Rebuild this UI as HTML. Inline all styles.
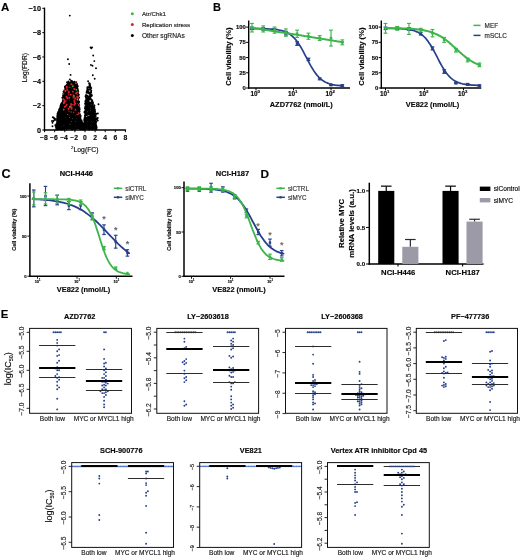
<!DOCTYPE html>
<html><head><meta charset="utf-8"><title>Figure</title>
<style>html,body{margin:0;padding:0;background:#fff}svg{display:block;font-family:"Liberation Sans", sans-serif}text{stroke:#222;stroke-width:.16px}</style>
</head><body>
<svg width="520" height="557" viewBox="0 0 520 557">
<rect width="520" height="557" fill="#fff"/>
<text x="1.00" y="11.40" font-size="11.5" font-weight="bold">A</text>
<text x="213.00" y="10.80" font-size="11" font-weight="bold">B</text>
<text x="1.40" y="178.40" font-size="12.6" font-weight="bold">C</text>
<text x="260.60" y="178.20" font-size="11.8" font-weight="bold">D</text>
<text x="0.80" y="317.60" font-size="11.4" font-weight="bold">E</text>
<path d="M65.6 121.8h0M71.9 111.4h0M57.6 123.3h0M68.7 91.0h0M74.2 82.8h0M84.1 129.2h0M59.7 122.8h0M73.3 96.6h0M58.7 128.8h0M65.5 102.5h0M79.5 111.1h0M71.2 86.7h0M84.7 127.9h0M60.9 118.9h0M78.1 106.8h0M76.1 99.4h0M80.5 117.9h0M57.4 115.8h0M80.2 124.0h0M57.2 124.3h0M58.3 117.3h0M67.8 90.3h0M71.6 87.3h0M64.9 110.3h0M84.0 129.1h0M70.3 100.0h0M68.1 108.7h0M75.9 102.7h0M57.4 115.5h0M79.3 119.4h0M74.7 126.6h0M61.1 120.7h0M60.8 126.8h0M81.6 125.3h0M66.8 113.5h0M84.8 127.4h0M60.0 122.0h0M61.0 129.2h0M71.8 125.5h0M81.4 123.4h0M61.1 108.5h0M65.1 119.7h0M80.3 122.4h0M63.0 110.6h0M57.7 125.4h0M83.4 128.0h0M67.1 118.5h0M62.0 113.0h0M70.0 97.3h0M74.8 85.6h0M69.8 120.0h0M79.5 107.9h0M83.6 126.6h0M60.6 108.4h0M79.8 115.6h0M72.2 124.8h0M74.9 103.6h0M81.6 123.3h0M64.7 117.7h0M68.3 123.3h0M69.4 101.5h0M82.6 125.9h0M57.0 125.3h0M79.4 123.7h0M72.3 111.0h0M78.8 125.1h0M64.3 96.7h0M78.3 91.7h0M70.6 103.0h0M71.5 106.4h0M81.9 122.6h0M83.5 126.1h0M69.2 125.6h0M75.5 91.4h0M77.4 99.5h0M84.0 128.7h0M85.0 126.8h0M71.4 111.9h0M77.0 127.7h0M56.7 125.6h0M57.5 113.6h0M59.6 125.4h0M64.5 121.8h0M80.4 126.6h0M72.8 95.0h0M76.4 110.0h0M74.9 91.8h0M58.4 113.9h0M72.4 84.5h0M71.6 117.1h0M58.1 125.9h0M78.1 116.1h0M66.4 128.3h0M72.3 116.9h0M59.6 111.7h0M80.3 123.2h0M84.1 128.5h0M68.1 112.6h0M58.7 116.4h0M58.5 114.8h0M64.8 118.3h0M61.7 118.0h0M85.0 127.4h0M65.3 113.9h0M70.4 104.5h0M56.8 129.3h0M57.5 126.1h0M71.2 91.6h0M82.3 125.5h0M60.7 112.1h0M79.9 117.9h0M79.6 125.9h0M79.9 120.5h0M81.7 125.4h0M57.5 127.4h0M80.0 121.9h0M75.9 106.5h0M77.7 105.5h0M58.5 116.8h0M64.5 100.9h0M84.5 126.8h0M75.7 91.2h0M59.2 126.7h0M65.2 104.6h0M63.7 101.8h0M64.8 105.8h0M60.6 111.4h0M83.3 128.1h0M84.3 127.7h0M83.4 128.3h0M71.8 84.6h0M70.8 86.1h0M82.1 126.9h0M70.7 106.2h0M66.3 114.3h0M78.4 95.5h0M77.1 87.5h0M67.5 83.2h0M68.7 115.7h0M80.2 126.7h0M64.3 108.9h0M83.4 126.3h0M82.4 123.2h0M58.0 116.4h0M75.1 116.3h0M60.3 118.3h0M78.0 86.1h0M65.2 104.3h0M60.9 125.0h0M62.7 101.0h0M60.6 125.5h0M59.5 124.5h0M81.9 124.0h0M71.5 109.6h0M64.6 91.5h0M74.7 87.5h0M63.8 111.3h0M80.7 121.1h0M76.8 86.6h0M56.2 128.1h0M84.3 128.6h0M75.5 84.3h0M78.3 110.3h0M78.6 122.5h0M65.6 123.3h0M76.6 124.5h0M73.5 109.5h0M57.0 125.7h0M74.9 85.7h0M63.3 93.8h0M56.8 123.4h0M63.7 104.0h0M57.7 123.2h0M61.8 107.5h0M62.8 101.6h0M62.8 120.9h0M83.8 127.7h0M68.3 98.2h0M67.7 119.1h0M58.3 127.1h0M81.7 126.9h0M65.7 121.9h0M57.6 119.3h0M65.9 121.9h0M67.0 89.0h0M61.9 119.3h0M68.9 125.9h0M83.2 127.4h0M56.9 124.2h0M57.9 129.0h0M78.0 90.5h0M84.3 126.8h0M65.5 118.1h0M82.6 126.5h0M62.9 114.0h0M67.6 115.8h0M82.5 128.2h0M78.8 105.9h0M66.9 94.5h0M78.0 118.3h0M72.2 114.3h0M84.7 128.7h0M77.0 107.6h0M73.6 95.8h0M75.2 123.2h0M72.4 109.9h0M64.0 120.6h0M73.5 109.8h0M70.5 117.5h0M84.8 127.7h0M80.5 120.5h0M59.8 126.4h0M82.8 129.0h0M78.9 97.9h0M74.3 117.3h0M62.0 120.6h0M62.7 129.1h0M65.0 120.1h0M58.5 126.8h0M75.1 125.1h0M68.9 114.2h0M65.6 103.5h0M81.3 120.7h0M77.3 121.2h0M68.9 89.1h0M69.7 121.9h0M75.0 86.4h0M67.2 106.0h0M71.6 85.5h0M79.6 111.5h0M83.4 124.8h0M82.7 128.2h0M61.3 110.4h0M80.8 121.3h0M68.0 104.0h0M63.5 102.3h0M72.6 93.9h0M59.7 115.1h0M65.0 109.4h0M75.3 106.2h0M74.6 104.6h0M79.0 113.8h0M59.6 126.3h0M69.2 105.5h0M58.5 116.0h0M58.5 119.4h0M60.3 111.8h0M79.7 127.3h0M84.2 126.5h0M83.4 129.2h0M81.9 128.3h0M71.0 85.0h0M70.9 113.2h0M60.5 105.9h0M61.5 110.6h0M74.3 111.5h0M73.6 88.9h0M74.2 109.2h0M85.1 126.3h0M69.0 120.0h0M79.2 123.7h0M73.2 96.3h0M57.2 126.6h0M71.3 86.4h0M75.1 129.2h0M66.5 117.2h0M62.3 111.1h0M83.3 128.5h0M81.5 122.8h0M56.7 125.1h0M74.7 108.0h0M63.7 97.0h0M68.2 118.8h0M56.8 126.7h0M62.1 110.9h0M79.9 126.2h0M57.4 116.0h0M56.3 127.1h0M77.8 108.4h0M63.5 127.3h0M76.1 89.2h0M71.9 107.2h0M64.0 104.4h0M81.8 128.3h0M84.0 125.3h0M65.6 119.1h0M76.2 98.2h0M80.2 122.5h0M77.3 102.2h0M74.1 125.6h0M57.1 129.2h0M56.9 128.4h0M77.3 125.3h0M79.7 116.8h0M81.2 122.5h0M62.5 127.9h0M79.3 119.1h0M65.0 126.1h0M62.3 119.7h0M63.5 117.5h0M65.6 86.1h0M74.3 127.0h0M78.2 115.4h0M63.0 103.7h0M61.8 128.0h0M56.6 127.1h0M62.2 114.9h0M64.1 93.1h0M76.7 105.9h0M58.3 114.4h0M74.6 110.0h0M81.8 129.1h0M64.0 93.6h0M81.8 126.9h0M77.8 97.3h0M65.4 122.6h0M77.8 119.5h0M73.1 120.5h0M63.7 121.3h0M80.7 128.4h0M66.0 106.1h0M61.7 103.7h0M84.5 127.3h0M79.2 109.9h0M75.0 123.8h0M57.0 124.0h0M70.8 97.2h0M73.0 108.3h0M68.4 101.5h0M62.6 104.9h0M76.1 88.7h0M69.3 113.0h0M68.0 92.2h0M63.7 111.3h0M68.1 97.9h0M75.4 90.3h0M84.2 128.2h0M83.5 128.2h0M71.9 92.5h0M80.5 120.5h0M62.8 107.4h0M60.0 108.3h0M64.3 113.4h0M68.7 95.7h0M62.7 105.0h0M62.8 102.8h0M59.8 112.8h0M70.6 101.8h0M66.0 100.9h0M69.8 113.6h0M80.1 125.5h0M67.3 116.2h0M56.8 129.0h0M69.8 106.6h0M66.7 88.1h0M79.9 117.5h0M80.2 121.5h0M83.8 126.7h0M60.3 123.9h0M60.6 108.3h0M81.5 126.2h0M81.8 125.4h0M75.9 103.1h0M81.9 125.7h0M60.6 118.9h0M60.6 116.5h0M80.8 128.6h0M75.7 87.6h0M83.5 129.3h0M73.7 96.3h0M84.5 125.5h0M57.2 118.5h0M81.1 125.1h0M78.6 119.7h0M72.8 88.5h0M68.3 104.8h0M84.0 127.1h0M65.3 114.2h0M78.2 127.9h0M72.1 126.7h0M61.6 103.9h0M78.7 102.0h0M74.1 93.6h0M62.7 107.1h0M59.5 127.3h0M83.0 124.9h0M79.2 111.8h0M68.7 112.0h0M83.1 129.2h0M79.4 120.1h0M56.5 124.9h0M84.5 127.3h0M74.9 118.0h0M57.2 129.3h0M81.3 129.0h0M77.6 121.6h0M76.7 89.7h0M74.6 92.1h0M63.7 93.2h0M56.8 124.9h0M65.9 98.5h0M70.6 125.3h0M69.4 97.8h0M66.6 99.0h0M67.3 94.7h0M72.9 116.3h0M76.9 89.8h0M84.2 125.5h0M69.0 86.7h0M73.4 86.2h0M56.7 128.2h0M81.3 128.1h0M72.3 115.9h0M76.1 85.6h0M72.7 90.8h0M82.8 127.4h0M70.2 118.4h0M79.3 117.6h0M78.2 118.1h0M81.8 124.9h0M62.3 124.6h0M67.0 102.2h0M60.7 129.2h0M74.9 91.5h0M66.3 105.7h0M84.8 124.9h0M64.3 96.9h0M78.3 98.4h0M57.7 126.6h0M57.7 121.2h0M83.7 126.7h0M67.7 123.9h0M72.5 98.8h0M68.3 109.0h0M84.8 128.9h0M82.1 124.8h0M78.2 105.8h0M57.3 127.2h0M75.5 112.4h0M59.6 122.5h0M70.4 120.3h0M75.6 129.3h0M82.7 128.1h0M60.9 120.7h0M80.6 121.9h0M79.8 122.0h0M62.4 127.2h0M60.9 109.3h0M60.7 123.0h0M61.9 115.9h0M59.9 111.1h0M75.6 117.2h0M64.5 118.9h0M85.1 126.7h0M81.8 128.0h0M57.1 122.7h0M56.5 128.5h0M69.3 86.9h0M59.9 125.3h0M62.3 128.3h0M71.0 115.2h0M76.6 90.8h0M58.6 115.6h0M58.5 115.4h0M81.2 127.4h0M70.3 87.4h0M80.4 125.2h0M73.4 128.6h0M59.4 114.8h0M66.0 96.8h0M58.1 116.1h0M71.1 102.3h0M84.2 129.0h0M80.1 129.1h0M56.8 123.1h0M76.2 125.0h0M57.8 126.5h0M64.5 123.4h0M73.7 88.2h0M77.1 122.6h0M67.2 109.6h0M67.5 86.4h0M63.7 113.8h0M78.9 112.8h0M57.8 123.2h0M63.4 112.1h0M71.8 124.5h0M57.0 128.0h0M74.1 91.3h0M57.9 120.0h0M64.1 108.1h0M63.9 106.9h0M64.5 115.4h0M73.4 82.5h0M69.9 103.1h0M60.4 121.9h0M63.2 124.1h0M73.7 100.3h0M76.6 105.6h0M70.1 113.3h0M71.1 109.3h0M66.9 91.1h0M70.5 115.2h0M78.7 124.6h0M69.2 125.3h0M78.2 124.2h0M77.8 121.2h0M75.3 99.8h0M70.7 92.9h0M69.4 90.8h0M60.1 112.1h0M73.1 105.2h0M68.1 93.4h0M67.4 106.2h0M64.7 111.0h0M65.4 95.6h0M69.3 119.5h0M73.2 102.0h0M65.1 93.9h0M62.3 117.0h0M57.8 118.4h0M78.5 110.1h0M71.4 94.7h0M73.3 112.4h0M71.7 123.2h0M71.9 102.3h0M69.6 104.6h0M66.1 105.2h0M65.2 88.0h0M59.1 110.4h0M84.8 125.6h0M64.7 106.5h0M61.5 111.9h0M84.9 128.1h0M78.9 119.6h0M64.9 92.0h0M62.0 114.6h0M74.9 103.7h0M68.6 123.9h0M59.8 128.0h0M79.9 120.6h0M57.3 124.1h0M66.7 120.9h0M82.5 125.8h0M67.2 127.6h0M83.7 127.2h0M57.5 116.0h0M82.5 124.6h0M83.8 128.2h0M67.8 96.0h0M81.2 126.1h0M62.2 120.9h0M65.0 106.0h0M67.5 110.2h0M80.2 124.5h0M64.7 120.1h0M66.1 121.6h0M64.4 97.0h0M80.6 120.7h0M77.0 111.6h0M83.9 127.5h0M60.9 113.5h0M73.6 110.2h0M62.8 103.7h0M71.7 115.1h0M75.5 100.4h0M58.7 126.5h0M75.3 122.5h0M70.8 114.4h0M62.7 124.4h0M67.4 87.8h0M81.1 128.5h0M76.1 96.1h0M75.9 94.7h0M66.7 100.8h0M82.4 125.7h0M57.9 127.3h0M67.7 127.0h0M61.4 106.3h0M63.5 111.6h0M56.2 129.3h0M80.9 124.4h0M60.3 113.5h0M77.6 125.0h0M77.9 93.6h0M83.3 128.3h0M80.2 120.9h0M76.3 105.8h0M60.2 114.1h0M79.2 121.9h0M74.8 101.9h0M66.9 110.1h0M60.2 113.0h0M63.6 107.6h0M66.4 115.4h0M72.2 112.4h0M77.8 121.2h0M69.5 92.7h0M64.8 113.4h0M64.2 120.2h0M59.7 121.4h0M61.3 128.3h0M58.8 117.2h0M59.7 118.5h0M71.8 128.5h0M83.4 126.5h0M59.9 129.0h0M61.2 113.5h0M60.8 110.5h0M65.6 120.9h0M67.4 102.3h0M63.1 126.7h0M79.4 120.5h0M70.8 104.4h0M72.9 124.8h0M69.2 84.2h0M69.0 119.3h0M80.1 120.6h0M64.5 100.6h0M65.6 108.1h0M82.6 128.6h0M66.5 120.5h0M69.3 85.1h0M83.9 124.3h0M58.0 117.5h0M72.8 82.0h0M65.0 113.9h0M61.9 110.7h0M75.2 109.1h0M71.7 100.5h0M61.6 106.0h0M81.3 128.3h0M63.6 109.5h0M72.8 121.9h0M58.9 122.6h0M80.6 124.4h0M59.6 108.8h0M80.8 125.5h0M72.9 92.4h0M58.1 125.3h0M73.9 117.4h0M68.2 86.4h0M72.4 85.4h0M77.3 113.6h0M80.4 126.7h0M83.6 127.7h0M59.2 118.4h0M83.1 126.2h0M69.1 89.1h0M56.9 128.6h0M64.9 99.8h0M80.9 124.9h0M83.7 128.7h0M81.4 124.0h0M80.0 117.9h0M61.4 107.5h0M74.1 124.9h0M82.0 126.8h0M66.6 106.5h0M66.4 129.4h0M69.6 83.4h0M76.0 114.7h0M63.8 104.2h0M84.6 128.2h0M81.0 122.6h0M66.2 116.2h0M83.7 125.9h0M77.4 105.1h0M72.3 109.2h0M65.7 86.0h0M63.5 119.7h0M56.8 125.6h0M72.8 113.6h0M64.7 115.0h0M83.0 129.3h0M61.5 115.0h0M78.5 113.3h0M70.5 86.0h0M57.6 127.4h0M63.1 116.2h0M81.6 124.5h0M84.2 128.1h0M66.5 123.1h0M81.3 125.4h0M65.5 95.7h0M76.0 112.8h0M58.1 119.2h0M73.5 115.5h0M82.9 127.1h0M74.1 93.4h0M60.8 125.9h0M79.6 120.9h0M72.1 95.9h0M77.1 116.5h0M77.8 118.0h0M69.3 112.7h0M60.3 128.3h0M78.5 116.0h0M78.1 125.8h0M58.1 120.3h0M83.4 128.3h0M77.6 88.3h0M78.6 121.5h0M74.3 111.7h0M66.0 91.5h0M58.7 116.7h0M58.5 118.1h0M83.7 126.9h0M64.2 111.7h0M79.1 101.9h0M63.2 111.9h0M80.7 127.4h0M64.6 112.8h0M60.9 111.7h0M73.6 87.0h0M66.6 94.5h0M81.2 121.0h0M59.7 111.6h0M60.9 112.5h0M76.5 123.3h0M76.9 89.0h0M63.1 100.7h0M70.9 116.5h0M57.6 118.8h0M60.1 119.3h0M62.0 112.4h0M71.0 122.5h0M83.5 128.4h0M81.9 124.6h0M64.1 127.6h0M68.1 102.5h0M76.0 96.3h0M75.8 84.3h0M68.3 111.2h0M67.6 110.1h0M84.5 128.2h0M63.9 105.0h0M61.7 127.0h0M82.1 128.4h0M72.1 112.8h0M77.7 91.2h0M84.5 127.7h0M67.5 95.5h0M74.3 95.1h0M71.8 116.8h0M82.0 126.9h0M70.6 119.0h0M71.5 101.0h0M63.0 123.0h0M74.4 90.5h0M57.2 124.4h0M60.1 125.9h0M66.6 92.2h0M59.0 123.1h0M68.8 106.0h0M61.0 112.5h0M63.5 114.6h0M56.9 127.5h0M61.8 110.6h0M63.6 100.0h0M81.2 126.2h0M74.2 111.0h0M67.2 96.5h0M75.2 89.1h0M73.7 85.6h0M76.5 110.5h0M58.7 115.3h0M70.6 85.7h0M73.5 103.9h0M68.1 107.0h0M70.1 104.1h0M77.7 111.8h0M72.1 91.6h0M62.6 126.9h0M58.9 114.7h0M75.9 94.3h0M75.6 105.4h0M80.0 116.2h0M71.2 129.0h0M65.1 118.2h0M71.1 108.5h0M81.0 123.4h0M62.2 127.1h0M69.6 104.1h0M79.1 126.0h0M57.9 123.3h0M73.1 112.1h0M64.4 99.6h0M69.6 83.3h0M58.0 121.9h0M81.0 128.0h0M72.5 88.7h0M76.3 114.3h0M60.8 108.4h0M59.1 115.0h0M75.0 116.9h0M60.8 128.1h0M80.7 126.2h0M66.1 105.5h0M66.2 93.7h0M84.5 128.5h0M63.0 111.3h0M77.1 108.5h0M79.6 128.0h0M71.9 113.0h0M70.8 85.4h0M81.1 124.0h0M60.1 124.4h0M63.0 98.7h0M83.9 129.3h0M66.5 108.6h0M61.7 108.9h0M72.3 122.5h0M73.5 106.9h0M59.5 117.3h0M66.4 111.3h0M61.8 105.1h0M81.5 126.1h0M81.6 127.7h0M60.1 119.8h0M71.2 110.6h0M62.9 125.8h0M70.9 88.5h0M70.2 89.4h0M63.2 103.1h0M57.3 123.0h0M81.8 128.5h0M78.9 107.3h0M73.7 83.4h0M76.7 89.6h0M69.7 87.9h0M68.3 109.9h0M77.6 98.6h0M60.7 124.8h0M84.0 125.8h0M70.4 92.5h0M74.2 117.3h0M78.6 126.2h0M60.7 105.3h0M60.1 112.8h0M77.3 93.5h0M68.3 90.8h0M64.9 86.5h0M59.5 109.4h0M80.7 127.3h0M63.0 112.1h0M76.2 110.4h0M75.7 85.0h0M58.7 117.4h0M73.4 88.6h0M70.8 128.8h0M73.9 105.6h0M66.4 91.1h0M58.7 123.7h0M75.6 90.9h0M57.9 117.5h0M84.4 128.4h0M74.1 85.1h0M83.7 128.0h0M80.2 127.4h0M61.6 103.8h0M63.9 116.3h0M81.6 123.4h0M82.2 127.0h0M69.5 83.5h0M74.4 108.4h0M83.0 125.2h0M57.7 115.4h0M68.9 94.6h0M78.0 127.7h0M84.0 126.5h0M73.2 125.7h0M74.5 114.5h0M71.9 109.1h0M80.0 114.7h0M76.9 96.5h0M72.6 89.3h0M60.3 117.7h0M77.6 120.7h0M64.8 114.5h0M61.7 121.3h0M65.8 109.9h0M67.7 111.2h0M62.5 102.4h0M74.8 90.9h0M77.9 107.9h0M78.5 115.5h0M71.4 113.6h0M78.1 128.4h0M66.8 87.7h0M58.0 119.7h0M68.4 92.2h0M74.5 81.8h0M78.4 115.8h0M66.0 111.3h0M61.7 105.4h0M75.8 86.3h0M58.3 120.3h0M75.7 99.2h0M63.7 96.0h0M60.4 113.4h0M81.5 124.5h0M75.3 87.7h0M76.7 99.8h0M73.9 89.0h0M62.1 124.8h0M79.2 121.5h0M80.4 127.2h0M60.5 123.8h0M72.4 91.6h0M59.4 123.9h0M66.4 104.0h0M62.1 105.2h0M57.4 119.7h0M68.2 125.0h0M73.1 107.4h0M62.9 101.2h0M83.9 128.7h0M59.8 118.3h0M69.7 112.3h0M64.2 120.5h0M68.8 118.8h0M63.3 105.9h0M77.6 90.4h0M77.0 126.2h0M80.9 122.8h0M65.9 119.2h0M65.4 127.8h0M82.2 124.7h0M59.2 126.3h0M84.4 126.3h0M80.2 128.6h0M62.5 123.5h0M76.7 86.8h0M76.8 111.5h0M60.7 128.8h0M56.4 126.2h0M57.7 115.8h0M65.5 102.3h0M75.4 118.4h0M67.3 123.6h0M62.0 115.1h0M76.8 109.1h0M58.3 120.5h0M76.5 116.3h0M69.7 122.8h0M58.2 126.0h0M67.3 93.5h0M78.1 128.2h0M58.3 129.1h0M75.1 83.1h0M64.0 124.4h0M59.2 109.8h0M79.5 125.9h0M78.9 102.7h0M80.4 124.5h0M74.0 99.6h0M58.3 120.3h0M56.8 128.2h0M69.4 122.4h0M68.7 124.7h0M65.9 124.5h0M80.9 128.1h0M77.7 120.8h0M78.5 128.4h0M73.6 102.0h0M73.7 98.4h0M78.8 108.0h0M57.1 120.5h0M81.4 128.4h0M63.9 116.7h0M59.1 121.9h0M82.2 127.5h0M78.3 116.9h0M56.6 128.9h0M78.1 101.1h0M71.4 124.0h0M74.2 107.8h0M60.8 115.4h0M83.0 128.0h0M59.7 124.7h0M56.0 127.2h0M61.1 117.1h0M78.0 96.5h0M57.5 120.1h0M83.7 125.7h0M73.6 94.8h0M58.5 129.2h0M70.3 82.5h0M78.6 122.6h0M68.3 95.2h0M59.7 110.3h0M57.9 118.2h0M79.4 115.7h0M62.3 106.2h0M73.4 96.7h0M59.5 109.2h0M72.7 117.5h0M80.7 128.3h0M60.7 111.5h0M71.9 123.3h0M64.4 112.7h0M62.2 122.4h0M74.7 105.5h0M75.5 88.6h0M69.1 121.7h0M59.2 126.5h0M63.1 113.3h0M66.6 108.4h0M58.1 125.3h0M81.2 122.2h0M83.6 127.3h0M81.3 128.5h0M82.7 127.3h0M69.8 113.4h0M66.7 124.5h0M61.3 129.4h0M69.8 92.7h0M70.6 98.7h0M78.8 110.9h0M67.2 89.1h0M73.6 86.2h0M57.6 123.3h0M77.7 104.7h0M75.8 128.7h0M71.1 80.6h0M74.0 118.1h0M85.8 128.3h0M66.0 109.8h0M57.6 126.0h0M56.8 128.6h0M76.9 122.2h0M84.1 128.5h0M81.9 128.5h0M69.1 109.8h0M81.7 120.8h0M68.0 127.2h0M57.7 126.4h0M81.2 124.3h0M79.5 116.9h0M63.1 103.2h0M82.2 124.4h0M82.5 127.0h0M64.0 118.8h0M75.4 125.3h0M69.9 96.5h0M69.6 95.7h0M61.4 105.0h0M69.1 85.0h0M84.4 125.9h0M66.6 99.1h0M62.9 121.6h0M60.4 119.6h0M73.0 83.0h0M76.9 108.3h0M57.2 124.0h0M83.6 127.0h0M74.5 95.1h0M78.9 116.7h0M73.3 88.9h0M62.0 127.8h0M64.2 126.9h0M76.6 128.4h0M85.1 128.0h0M60.7 120.3h0M68.5 105.9h0M59.1 127.5h0M75.9 116.2h0M66.9 107.5h0M72.8 127.5h0M68.0 96.3h0M79.2 126.9h0M76.4 91.9h0M59.1 115.9h0M62.2 114.4h0M63.5 118.1h0M76.9 127.9h0M64.4 101.5h0M82.6 128.0h0M64.4 122.9h0M79.9 121.3h0M65.2 114.7h0M74.0 125.6h0M60.5 108.4h0M62.1 124.7h0M66.7 95.0h0M59.7 127.3h0M63.9 103.8h0M69.8 94.6h0M69.0 86.9h0M59.3 119.3h0M57.4 115.8h0M69.9 98.8h0M77.9 96.2h0M67.7 124.8h0M64.8 97.5h0M58.4 124.7h0M61.0 124.9h0M66.9 123.4h0M59.2 123.5h0M82.2 128.3h0M64.2 108.7h0M60.1 125.4h0M79.9 123.6h0M70.3 83.6h0M65.4 121.0h0M61.3 118.7h0M72.5 128.1h0M83.2 129.0h0M67.1 110.8h0M59.4 125.3h0M74.4 86.3h0M82.7 127.1h0M78.4 95.6h0M67.6 91.8h0M66.5 92.1h0M81.2 122.2h0M77.6 99.1h0M81.4 124.3h0M78.7 104.5h0M66.3 118.0h0M57.3 118.9h0M58.7 117.0h0M67.9 92.8h0M74.6 83.9h0M77.1 115.0h0M59.2 117.8h0M70.0 109.1h0M63.0 116.6h0M76.3 123.0h0M73.0 106.9h0M58.6 119.8h0M66.1 118.4h0M62.7 101.9h0M67.2 97.1h0M64.9 114.2h0M71.9 103.6h0M83.6 123.6h0M61.5 104.2h0M81.2 127.2h0M56.7 125.0h0M83.6 128.5h0M60.3 115.0h0M74.0 115.4h0M71.1 105.5h0M66.0 97.3h0M64.1 109.5h0M82.0 127.3h0M77.6 98.4h0M80.6 121.5h0M69.3 126.4h0M75.9 120.3h0M84.7 128.5h0M62.4 123.5h0M65.2 121.8h0M62.0 119.8h0M70.1 108.1h0M83.8 127.9h0M60.8 126.6h0M84.3 127.3h0M66.6 97.6h0M81.2 126.5h0M76.8 110.6h0M68.3 107.8h0M75.3 93.6h0M66.5 91.3h0M75.7 112.9h0M68.4 121.5h0M79.6 128.7h0M67.1 88.6h0M83.0 125.6h0M67.3 100.8h0M67.5 109.3h0M72.3 113.8h0M61.1 113.1h0M58.3 116.6h0M57.6 124.8h0M82.2 122.5h0M59.1 111.3h0M77.9 92.3h0M80.9 121.5h0M57.6 128.4h0M74.6 123.5h0M73.8 96.8h0M84.5 127.3h0M63.1 96.6h0M61.7 125.0h0M77.4 125.0h0M57.0 123.4h0M69.2 86.9h0M67.2 87.6h0M72.7 122.0h0M75.7 128.6h0M56.9 126.3h0M73.1 91.3h0M83.6 124.9h0M66.9 117.5h0M78.9 106.5h0M66.0 96.1h0M61.0 108.0h0M82.6 129.2h0M78.0 106.8h0M68.9 87.3h0M59.8 125.1h0M69.6 94.5h0M75.0 122.4h0M62.9 108.5h0M82.7 125.8h0M72.4 89.9h0M81.0 127.1h0M60.2 114.3h0M57.9 112.3h0M60.4 114.5h0M79.7 128.1h0M82.0 128.3h0M77.2 113.2h0M60.5 111.5h0M71.3 112.9h0M70.7 91.3h0M62.3 97.7h0M78.3 103.1h0M68.8 125.6h0M76.3 93.3h0M79.9 116.1h0M76.1 101.4h0M60.4 117.7h0M66.6 103.6h0M61.7 106.2h0M84.1 127.0h0M67.5 103.3h0M62.7 125.4h0M72.3 83.2h0M83.4 124.9h0M75.4 109.9h0M84.1 129.4h0M72.2 117.8h0M79.7 120.9h0M84.8 126.9h0M57.8 123.4h0M73.0 127.5h0M73.3 89.7h0M62.0 109.7h0M64.1 94.0h0M83.9 127.8h0M80.5 118.2h0M64.5 121.9h0M83.7 126.6h0M74.7 120.4h0M66.9 89.2h0M60.7 124.1h0M60.9 115.7h0M68.3 103.4h0M68.3 117.2h0M80.2 126.8h0M67.3 112.9h0M75.7 87.6h0M82.9 126.7h0M59.0 124.2h0M68.5 111.5h0M63.7 122.8h0M82.5 125.3h0M57.4 128.5h0M61.1 115.2h0M65.6 124.3h0M70.8 119.7h0M75.3 124.4h0M62.9 115.4h0M76.3 82.2h0M75.9 116.2h0M68.9 122.3h0M84.9 126.9h0M70.1 118.4h0M79.3 125.7h0M70.0 121.2h0M75.6 93.1h0M57.6 118.6h0M65.4 125.5h0M66.8 96.9h0M64.4 90.3h0M58.8 116.2h0M60.8 108.6h0M67.3 98.4h0M66.6 91.3h0M82.1 126.2h0M84.0 128.1h0M62.1 113.9h0M67.0 104.6h0M64.4 107.2h0M75.4 118.5h0M78.1 102.5h0M63.6 94.1h0M64.2 111.1h0M70.6 93.8h0M67.1 113.5h0M77.9 119.2h0M74.8 94.8h0M64.3 126.6h0M83.2 126.2h0M79.5 124.6h0M79.2 109.8h0M63.5 108.7h0M80.8 119.9h0M65.6 88.0h0M64.3 92.5h0M80.9 120.3h0M79.0 116.2h0M68.9 108.8h0M57.1 125.3h0M67.5 93.8h0M74.3 120.6h0M74.5 114.4h0M82.2 127.4h0M66.0 127.2h0M73.8 103.9h0M65.8 109.0h0M60.4 109.0h0M63.5 106.9h0M79.7 109.2h0M70.2 83.3h0M62.4 107.3h0M72.0 109.4h0M64.2 97.2h0M59.1 120.3h0M59.4 127.0h0M70.6 113.7h0M84.5 128.0h0M67.7 90.9h0M66.4 112.3h0M64.5 126.4h0M59.7 114.6h0M66.1 91.9h0M83.9 127.6h0M75.5 95.4h0M63.3 99.3h0M67.2 96.3h0M83.6 126.1h0M70.3 119.5h0M76.1 115.6h0M73.9 119.2h0M72.2 120.7h0M60.0 121.6h0M74.0 90.5h0M68.9 88.5h0M66.7 109.9h0M75.0 123.3h0M82.9 124.9h0M80.3 128.3h0M57.1 120.8h0M76.0 103.4h0M82.2 129.3h0M58.6 118.7h0M64.5 118.5h0M81.5 120.1h0M64.0 92.4h0M62.8 127.0h0M74.3 88.3h0M69.8 90.9h0M83.2 128.4h0M63.7 102.5h0M62.9 98.5h0M70.3 128.2h0M81.7 127.1h0M77.6 97.9h0M60.9 106.6h0M78.6 122.8h0M80.1 127.7h0M70.1 109.3h0M68.7 128.2h0M72.1 98.8h0M78.2 119.5h0M76.0 88.6h0M83.8 128.6h0M60.5 124.6h0M60.6 124.3h0M70.2 101.4h0M80.3 129.3h0M78.3 106.0h0M78.5 118.4h0M73.1 96.3h0M58.2 118.2h0M72.5 94.7h0M81.4 129.0h0M59.2 119.9h0M69.2 110.8h0M59.7 125.4h0M58.6 115.6h0M62.1 128.5h0M83.1 127.6h0M83.6 126.4h0M78.4 96.9h0M68.3 86.9h0M72.3 105.1h0M72.5 88.1h0M81.6 124.2h0M74.5 87.7h0M64.8 98.4h0M74.7 96.5h0M68.9 112.1h0M60.6 114.1h0M65.1 105.3h0M77.3 126.2h0M77.4 111.8h0M71.0 108.8h0M65.2 87.8h0M63.4 95.2h0M80.0 124.5h0M59.8 126.9h0M62.0 116.7h0M61.1 114.7h0M82.0 127.4h0M57.3 123.7h0M73.5 96.3h0M59.5 122.9h0M67.2 122.8h0M60.8 124.2h0M62.4 116.1h0M68.9 116.6h0M58.2 119.9h0M68.0 101.0h0M58.0 116.3h0M64.7 108.8h0M64.7 104.5h0M74.5 125.0h0M63.0 123.8h0M77.3 109.3h0M63.7 92.9h0M83.0 129.1h0M84.6 127.6h0M58.9 114.1h0M74.2 117.4h0M59.4 117.1h0M75.1 95.9h0M84.0 127.1h0M76.1 93.4h0M73.4 104.1h0M84.0 127.4h0M79.9 126.8h0M83.1 126.3h0M79.2 114.2h0M78.9 110.9h0M61.2 124.6h0M66.5 125.2h0M63.4 99.9h0M65.1 116.8h0M68.9 112.2h0M67.1 129.0h0M56.8 128.1h0M71.6 115.6h0M67.0 85.5h0M80.1 128.4h0M72.5 90.3h0M64.5 113.4h0M72.5 90.2h0M82.7 124.7h0M83.1 128.5h0M76.3 85.3h0M83.3 124.9h0M78.4 116.7h0M79.0 124.0h0M60.1 125.4h0M83.7 123.5h0M74.5 120.5h0M58.7 122.2h0M68.5 83.7h0M79.0 109.1h0M70.2 108.3h0M65.7 102.9h0M66.1 128.8h0M80.2 123.2h0M73.2 101.1h0M64.1 105.8h0M67.3 105.6h0M77.3 92.5h0M73.5 88.6h0M57.6 115.7h0M82.6 126.0h0M73.4 109.2h0M73.9 109.8h0M72.3 82.3h0M57.1 121.4h0M84.2 125.6h0M71.7 94.6h0M65.8 93.0h0M57.1 120.5h0M67.0 117.7h0M73.4 110.2h0M79.1 97.4h0M67.3 112.6h0M72.4 91.5h0M64.1 109.5h0M80.3 123.0h0M58.4 123.9h0M65.1 98.5h0M79.8 119.5h0M79.7 127.8h0M62.6 129.2h0M77.9 97.9h0M84.0 128.9h0M75.7 96.7h0M64.3 117.9h0M81.5 121.7h0M75.2 123.0h0M65.7 124.4h0M69.9 90.4h0M66.5 90.6h0M77.8 124.9h0M63.3 104.9h0M69.5 127.5h0M78.6 108.4h0M76.6 122.0h0M64.8 99.0h0M64.3 93.3h0M67.2 88.6h0M72.9 87.4h0M59.2 119.1h0M68.8 82.4h0M80.5 119.5h0M74.4 94.1h0M65.6 106.1h0M69.4 87.7h0M70.6 84.8h0M75.2 84.4h0M56.9 119.0h0M79.8 126.6h0M67.7 119.7h0M59.3 111.2h0M67.8 103.4h0M74.6 110.6h0M71.6 97.4h0M68.4 111.3h0M83.2 125.9h0M63.6 115.6h0M84.5 127.4h0M60.4 121.0h0M63.3 100.0h0M71.9 128.5h0M75.9 111.6h0M64.9 124.9h0M62.9 127.7h0M77.8 100.2h0M63.6 122.9h0M69.9 93.8h0M73.7 95.8h0M61.6 103.1h0M74.9 123.5h0M80.7 127.9h0M79.0 105.6h0M76.3 114.1h0M77.4 106.8h0M67.3 87.0h0M57.7 120.5h0M65.1 119.7h0M78.1 110.0h0M62.7 114.3h0M75.2 91.1h0M77.7 98.8h0M73.8 93.7h0M66.7 123.7h0M72.8 119.9h0M78.0 123.1h0M70.7 116.7h0M64.2 97.8h0M63.7 93.8h0M66.2 114.6h0M81.9 129.4h0M82.3 128.3h0M67.2 123.6h0M73.3 106.1h0M79.1 101.5h0M79.1 112.3h0M60.2 109.4h0M83.0 126.7h0M63.0 109.7h0M71.1 96.8h0M69.0 84.4h0M57.8 125.6h0M71.4 120.0h0M74.4 87.9h0M78.2 110.9h0M68.5 84.1h0M81.7 126.3h0M59.3 111.7h0M73.6 124.3h0M79.2 105.5h0M68.4 96.2h0M67.5 90.7h0M65.1 106.4h0M58.4 113.4h0M84.2 126.1h0M76.5 94.7h0M82.5 126.0h0M64.2 129.3h0M60.2 107.3h0M60.3 108.1h0M60.2 120.0h0M68.4 126.9h0M83.6 125.9h0M76.3 104.4h0M71.5 91.4h0M68.8 115.9h0M74.7 101.6h0M71.1 81.8h0M66.1 115.3h0M57.5 114.4h0M76.1 94.5h0M77.1 117.8h0M79.1 121.8h0M79.6 111.5h0M59.1 114.5h0M78.4 109.3h0M74.8 95.7h0M78.3 105.9h0M68.4 107.1h0M68.2 106.8h0M58.7 128.7h0M73.4 110.3h0M81.7 122.2h0M65.3 128.1h0M62.8 118.7h0M70.4 109.7h0M81.4 123.2h0M84.6 126.2h0M58.4 118.8h0M75.0 106.9h0M73.9 123.0h0M63.4 94.8h0M62.9 115.7h0M69.5 91.4h0M65.8 89.2h0M74.0 122.1h0M74.7 111.9h0M72.9 119.6h0M82.6 126.7h0M64.5 98.1h0M69.2 87.0h0M60.5 123.9h0M78.2 111.2h0M78.9 94.7h0M63.5 91.6h0M67.8 117.2h0M66.8 96.4h0M62.8 123.1h0M71.7 129.3h0M63.5 121.0h0M66.0 117.3h0M65.9 94.4h0M81.8 125.5h0M61.1 120.9h0M74.0 107.4h0M78.2 116.8h0M64.1 98.1h0M66.8 89.6h0M62.1 108.6h0M76.0 114.6h0M84.4 129.1h0M69.1 85.8h0M74.4 96.0h0M81.6 128.6h0M69.4 101.4h0M69.8 127.3h0M65.2 121.1h0M59.8 123.5h0M59.3 115.4h0M61.0 113.2h0M61.4 119.7h0M72.5 100.0h0M58.7 124.7h0M82.6 124.0h0M72.9 122.9h0M81.6 126.2h0M58.8 115.6h0M82.0 128.4h0M76.4 110.2h0M79.9 123.9h0M65.0 106.1h0M66.9 96.3h0M78.3 105.8h0M81.8 124.2h0M62.2 105.3h0M71.5 100.4h0M72.3 124.8h0M60.0 112.8h0M76.2 85.7h0M63.5 101.8h0M78.3 120.8h0M77.8 110.5h0M83.6 125.9h0M77.1 106.5h0M81.7 123.7h0M79.4 119.3h0M82.1 123.7h0M60.2 120.7h0M67.0 84.7h0M59.9 127.1h0M64.2 113.1h0M80.5 122.4h0M73.5 113.6h0M77.3 92.0h0M66.7 120.6h0M80.5 118.3h0M57.3 127.3h0M64.9 98.8h0M64.6 97.1h0M70.0 105.9h0M70.3 99.8h0M81.2 124.0h0M60.6 121.8h0M59.9 128.5h0M60.2 110.8h0M66.6 116.1h0M73.4 90.2h0M77.3 85.8h0M67.0 82.3h0M63.6 128.6h0M66.5 104.8h0M81.4 127.8h0M68.6 85.6h0M72.6 116.3h0M59.4 112.9h0M66.9 125.3h0M78.5 119.5h0M83.3 126.8h0M84.0 125.7h0M68.0 102.8h0M80.9 128.4h0M60.7 107.6h0M68.2 100.9h0M59.3 116.0h0M79.4 114.4h0M56.4 127.1h0M57.4 125.5h0M84.7 129.2h0M62.8 114.8h0M65.7 108.4h0M76.3 113.1h0M59.6 114.5h0M59.2 113.7h0M59.8 115.8h0M69.7 95.0h0M61.6 114.7h0M85.0 127.1h0M74.9 93.0h0M84.9 128.4h0M81.9 126.3h0M58.4 122.4h0M74.4 84.4h0M58.5 128.6h0M74.3 119.1h0M83.6 127.2h0M64.0 99.6h0M65.6 90.9h0M64.9 102.8h0M78.7 114.4h0M68.6 85.1h0M77.5 97.4h0M80.0 120.2h0M64.1 93.2h0M66.5 115.3h0M82.2 126.1h0M59.2 114.8h0M79.1 126.3h0M80.5 120.0h0M80.9 128.0h0M67.9 93.5h0M84.3 129.3h0M78.1 118.5h0M84.7 127.9h0M70.6 93.0h0M65.6 110.1h0M81.4 128.6h0M68.2 102.5h0M65.5 124.9h0M77.8 101.1h0M80.4 120.9h0M68.2 117.0h0M74.7 84.6h0M71.4 125.8h0M70.0 84.5h0M73.2 90.8h0M84.5 126.7h0M62.9 107.1h0M70.9 129.1h0M56.8 128.8h0M66.8 115.6h0M77.5 106.9h0M82.7 127.6h0M81.9 127.8h0M59.5 121.2h0M74.5 98.1h0M56.4 124.1h0M58.9 116.0h0M61.7 106.6h0M67.7 86.9h0M75.8 116.6h0M79.4 125.1h0M74.6 95.7h0M77.9 119.1h0M63.5 124.3h0M81.9 125.9h0M73.4 102.9h0M72.9 100.7h0M63.3 106.4h0M83.6 126.8h0M80.1 119.0h0M76.7 101.7h0M78.0 118.9h0M63.5 101.8h0M70.0 107.1h0M84.5 125.9h0M75.4 105.1h0M66.7 127.2h0M65.3 124.0h0M61.7 117.1h0M71.6 109.3h0M72.7 82.5h0M65.6 95.1h0M56.9 128.8h0M67.6 84.5h0M83.6 125.3h0M65.9 128.5h0M58.7 115.6h0M64.7 91.4h0M82.3 128.3h0M85.0 129.3h0M67.8 92.2h0M60.2 109.6h0M70.0 86.0h0M60.8 117.9h0M81.3 125.6h0M70.3 106.2h0M82.7 124.6h0M81.0 120.9h0M81.5 128.4h0M71.2 99.0h0M60.4 112.1h0M79.8 120.7h0M58.5 121.8h0M78.0 90.7h0M84.1 125.4h0M69.3 103.8h0M64.5 91.2h0M59.5 112.7h0M62.9 100.0h0M59.5 126.1h0M66.7 98.0h0M71.7 123.1h0M65.7 92.9h0M59.9 128.4h0M84.0 125.8h0M79.2 105.0h0M73.7 123.0h0M73.9 98.2h0M57.0 124.9h0M80.6 128.6h0M73.6 128.5h0M78.6 109.6h0M75.2 125.6h0M79.8 114.0h0M72.8 114.8h0M66.6 106.1h0M74.6 118.8h0M70.0 95.7h0M65.1 103.2h0M74.8 114.0h0M71.3 117.5h0M66.1 118.1h0M83.4 129.4h0M81.2 122.6h0M76.4 119.6h0M76.0 100.9h0M63.5 127.5h0M82.7 127.8h0M71.4 112.2h0M70.5 128.5h0M70.8 106.5h0M58.6 128.4h0M70.9 125.8h0M74.1 128.6h0M60.9 113.5h0M75.1 90.8h0M80.1 124.5h0M76.7 128.0h0M74.3 87.8h0M61.9 120.9h0M57.3 118.0h0M78.1 127.1h0M83.4 129.1h0M84.3 128.4h0M65.5 99.6h0M64.1 111.4h0M60.9 117.1h0M64.7 91.0h0M65.2 123.3h0M78.2 127.3h0M70.2 96.0h0M76.9 121.8h0M72.3 103.1h0M67.5 104.1h0M57.4 116.1h0M61.5 108.5h0M74.8 99.0h0M79.7 122.9h0M63.8 112.7h0M81.5 123.2h0M81.9 128.4h0M71.9 104.0h0M75.3 113.5h0M84.1 128.1h0M66.7 123.2h0M78.9 113.6h0M57.9 116.3h0M83.8 126.0h0M73.4 104.0h0M65.4 128.4h0M58.4 128.7h0M84.2 128.6h0M76.8 121.7h0M79.9 120.0h0M71.7 89.6h0M75.8 119.2h0M81.9 121.7h0M58.3 128.4h0M84.0 126.6h0M71.8 96.9h0M83.7 127.4h0M60.5 124.2h0M68.7 126.8h0M81.6 129.0h0M68.6 92.7h0M68.7 103.8h0M61.8 124.8h0M76.8 127.1h0M83.0 127.4h0M71.4 114.0h0M76.8 113.4h0M77.0 98.3h0M59.8 126.5h0M75.2 112.1h0M63.8 122.9h0M72.5 116.5h0M68.4 99.4h0M59.0 123.0h0M74.1 124.8h0M67.1 110.6h0M62.1 124.8h0M83.2 127.0h0M81.0 128.1h0M74.2 97.4h0M60.8 116.3h0M81.1 125.5h0M72.7 115.0h0M75.1 101.2h0M70.2 103.3h0M61.5 121.1h0M74.8 128.7h0M59.6 120.1h0M72.4 107.4h0M81.9 125.2h0M61.6 105.4h0M73.8 101.5h0M77.4 121.0h0M56.7 127.0h0M84.7 126.8h0M83.7 127.7h0M80.6 124.0h0M59.1 119.1h0M61.1 110.5h0M83.3 128.0h0M81.6 125.0h0M63.8 96.8h0M65.6 92.3h0M79.7 118.3h0M75.1 102.2h0M57.2 128.0h0M59.1 112.9h0M78.2 99.6h0M72.2 82.4h0M69.5 108.3h0M75.8 85.7h0M66.8 125.5h0M82.0 124.2h0M79.3 120.9h0M65.7 105.7h0M65.3 91.6h0M62.6 112.1h0M75.4 106.7h0M64.6 106.5h0M58.8 126.9h0M71.6 127.0h0M61.3 122.0h0M63.4 108.4h0M74.9 123.7h0M77.5 102.9h0M61.2 123.7h0M58.6 122.0h0M80.8 125.1h0M64.6 102.9h0M72.1 97.1h0M60.3 123.0h0M67.1 89.2h0M62.0 128.3h0M56.8 128.7h0M66.4 93.7h0M80.2 128.6h0M71.7 119.8h0M62.5 111.6h0M73.1 90.6h0M71.4 97.9h0M68.0 94.9h0M65.1 98.3h0M72.3 93.5h0M70.2 93.9h0M64.1 106.0h0M63.5 96.4h0M77.4 116.0h0M83.3 127.5h0M71.2 95.6h0M73.7 126.2h0M64.7 99.7h0M59.0 114.9h0M75.7 107.4h0M84.6 124.4h0M75.6 107.5h0M62.1 121.6h0M76.3 95.0h0M75.8 127.0h0M62.4 116.2h0M79.5 128.1h0M64.0 93.3h0M83.5 127.0h0M57.0 129.0h0M84.2 127.2h0M65.8 107.3h0M78.7 111.1h0M59.7 121.9h0M60.3 123.5h0M58.2 123.8h0M59.9 113.1h0M71.7 81.0h0M84.2 128.8h0M65.2 101.7h0M61.3 103.8h0M80.4 127.2h0M78.8 106.3h0M64.3 103.9h0M71.7 100.4h0M64.7 122.7h0M83.2 127.8h0M81.1 122.1h0M58.4 124.8h0M63.5 110.4h0M60.1 122.4h0M59.3 113.5h0M79.2 112.8h0M80.1 129.1h0M82.6 126.1h0M74.5 120.7h0M63.7 112.2h0M74.4 94.8h0M81.7 123.3h0M70.5 91.5h0M71.2 119.0h0M81.7 124.1h0M73.2 99.1h0M76.1 85.8h0M76.1 122.8h0M67.6 105.5h0M76.8 110.8h0M60.9 114.8h0M81.7 123.5h0M79.7 120.9h0M77.0 90.2h0M61.5 120.1h0M66.2 120.2h0M75.6 108.2h0M65.4 128.1h0M64.7 117.1h0M84.0 126.5h0M64.5 111.6h0M73.3 126.7h0M79.9 117.0h0M57.7 121.7h0M61.2 106.4h0M84.4 128.2h0M59.1 112.0h0M66.4 128.7h0M78.5 120.7h0M81.1 123.5h0M58.1 122.4h0M77.1 97.4h0M74.8 96.8h0M82.0 126.2h0M82.8 124.7h0M70.4 126.8h0M66.3 111.1h0M77.9 89.6h0M59.5 117.8h0M67.4 122.1h0M75.4 112.2h0M67.6 87.4h0M73.5 94.5h0M73.2 99.5h0M76.4 94.6h0M69.8 90.5h0M59.0 115.9h0M71.9 124.1h0M81.2 127.4h0M59.7 111.5h0M62.7 125.0h0M76.4 83.7h0M68.6 98.8h0M57.0 128.2h0M65.0 105.8h0M59.7 114.9h0M70.1 110.5h0M61.4 125.1h0M78.6 124.3h0M84.2 126.1h0M69.2 102.6h0M59.0 122.1h0M70.4 92.9h0M67.7 96.8h0M57.2 128.5h0M77.4 128.0h0M82.9 128.1h0M69.4 90.4h0M75.1 91.5h0M71.2 98.7h0M73.2 82.7h0M84.0 125.8h0M69.9 123.3h0M61.9 105.5h0M72.2 87.0h0M69.2 115.9h0M79.9 128.8h0M71.9 83.0h0M83.7 124.2h0M62.1 106.1h0M82.4 126.0h0M60.3 119.5h0M84.7 129.3h0M74.2 117.4h0M82.5 128.7h0M68.8 128.5h0M66.5 85.3h0M79.6 114.5h0M80.6 128.4h0M70.3 108.4h0M68.4 106.6h0M71.2 120.4h0M62.0 116.6h0M64.7 97.0h0M57.6 126.6h0M58.8 117.7h0M79.5 128.0h0M59.6 123.8h0M60.5 124.8h0M77.8 111.5h0M62.8 122.1h0M73.1 103.2h0M65.4 100.2h0M70.0 121.8h0M80.3 123.3h0M73.2 82.7h0M59.7 113.0h0M83.0 127.7h0M77.9 102.9h0M77.9 109.4h0M63.7 119.2h0M77.9 93.3h0M68.2 111.7h0M65.0 98.7h0M76.9 90.4h0M76.4 113.6h0M60.6 108.1h0M67.2 103.6h0M57.7 118.5h0M67.8 90.3h0M57.0 123.6h0M71.6 128.1h0M58.4 116.7h0M80.3 123.9h0M82.3 128.0h0M78.7 102.8h0M71.5 92.1h0M73.0 93.1h0M76.9 110.2h0M67.1 102.8h0M64.4 116.0h0M60.9 104.8h0M68.5 127.2h0M58.9 109.9h0M57.7 125.2h0M61.8 116.5h0M75.7 103.6h0M58.9 115.4h0M83.0 128.4h0M74.7 128.7h0M71.1 110.2h0M75.1 126.2h0M64.4 115.5h0M83.7 125.7h0M61.8 117.5h0M81.8 128.9h0M60.7 118.4h0M84.3 124.2h0M59.8 117.1h0M60.2 126.7h0M78.2 126.3h0M77.5 93.3h0M77.2 84.1h0M65.8 94.6h0M62.9 96.0h0M65.3 98.8h0M81.1 124.2h0M83.6 125.9h0M82.6 123.8h0M56.7 127.9h0M84.8 128.9h0M78.5 107.1h0M58.7 113.5h0M72.5 88.9h0M70.0 93.2h0M78.4 114.9h0M81.8 124.5h0M66.4 108.8h0M72.3 86.4h0M72.3 81.2h0M78.4 112.2h0M81.8 124.5h0M71.2 109.3h0M84.3 129.1h0M78.2 113.1h0M77.3 114.4h0M78.0 110.7h0M64.2 128.4h0M80.8 115.9h0M67.4 96.0h0M68.7 110.5h0M80.6 128.6h0M74.2 113.7h0M67.6 105.7h0M80.9 121.9h0M62.1 129.1h0M72.4 112.2h0M66.5 95.7h0M57.2 116.4h0M76.0 102.3h0M84.5 125.2h0M82.0 127.6h0M68.1 102.0h0M80.6 126.2h0M59.4 121.4h0M61.7 120.7h0M66.6 99.0h0M73.1 93.8h0M75.3 127.1h0M61.1 119.4h0M66.2 91.7h0M74.6 98.6h0M70.4 109.2h0M68.0 98.1h0M69.1 109.5h0M79.0 122.7h0M73.2 92.2h0M61.6 111.7h0M63.6 116.9h0M81.6 122.7h0M62.2 116.6h0M67.5 119.9h0M70.0 126.2h0M79.1 113.7h0M63.8 108.5h0M77.1 105.4h0M72.4 91.7h0M75.7 106.0h0M84.8 125.5h0M72.8 106.9h0M79.8 124.2h0M72.8 129.2h0M80.4 124.1h0M74.3 85.9h0M61.2 113.5h0M60.3 124.2h0M69.7 128.4h0M59.3 129.1h0M69.1 120.4h0M65.7 126.3h0M75.1 90.1h0M60.3 114.2h0M80.7 123.2h0M67.3 117.3h0M60.7 108.1h0M84.3 126.3h0M66.8 116.1h0M84.4 129.3h0M79.5 110.9h0M68.5 81.5h0M82.6 127.3h0M74.7 127.7h0M86.5 127.5h0M85.7 104.4h0M93.3 118.4h0M91.4 95.5h0M83.9 123.3h0M93.6 108.2h0M85.4 101.2h0M86.6 106.4h0M87.4 106.7h0M87.4 90.6h0M95.4 121.1h0M84.4 126.6h0M92.3 115.9h0M94.5 111.1h0M96.1 127.3h0M95.4 129.1h0M93.8 112.4h0M96.3 128.7h0M94.1 106.9h0M88.7 97.4h0M89.7 123.0h0M92.9 124.4h0M92.1 106.0h0M91.0 102.6h0M94.6 115.2h0M94.9 127.8h0M89.6 128.7h0M87.6 110.7h0M94.5 111.8h0M84.9 121.4h0M90.2 92.4h0M84.4 127.9h0M95.4 128.8h0M91.0 103.7h0M88.2 96.6h0M86.1 113.6h0M88.3 102.4h0M92.5 113.5h0M85.6 114.2h0M93.2 118.7h0M92.0 112.5h0M86.8 101.6h0M95.1 125.7h0M95.8 125.9h0M89.4 103.1h0M95.1 125.5h0M86.2 120.8h0M91.4 114.8h0M92.5 127.1h0M86.2 101.1h0M88.3 100.4h0M96.4 121.6h0M93.7 122.0h0M94.2 128.5h0M89.2 110.9h0M89.4 97.1h0M84.7 122.8h0M89.0 120.5h0M91.4 128.5h0M95.1 114.8h0M89.4 96.6h0M90.4 117.7h0M90.5 126.7h0M86.8 113.4h0M86.5 99.8h0M85.1 115.2h0M91.8 95.7h0M86.2 95.2h0M88.5 114.6h0M95.6 126.5h0M95.1 122.1h0M91.7 117.5h0M85.9 119.8h0M95.5 124.8h0M87.2 98.4h0M84.1 127.5h0M94.7 111.0h0M84.0 127.8h0M94.7 126.1h0M88.9 108.4h0M92.6 110.9h0M85.5 123.8h0M90.3 89.5h0M91.9 119.4h0M95.0 114.4h0M88.5 92.1h0M91.6 127.6h0M85.2 118.7h0M90.5 113.4h0M87.4 87.2h0M88.5 107.8h0M88.8 99.5h0M87.8 89.2h0M90.8 112.5h0M92.4 102.7h0M85.4 101.9h0M87.7 95.7h0M95.8 128.1h0M92.5 120.0h0M92.3 115.0h0M94.8 113.1h0M94.0 128.5h0M88.2 103.3h0M85.2 128.7h0M84.4 129.3h0M87.9 108.4h0M92.0 107.2h0M87.8 125.3h0M84.8 120.9h0M94.1 111.5h0M94.4 114.4h0M94.4 116.2h0M89.4 120.5h0M92.3 128.3h0M85.3 113.7h0M87.9 128.5h0M90.9 99.1h0M93.6 106.6h0M88.4 97.5h0M95.8 124.2h0M86.3 98.3h0M85.7 125.2h0M89.0 120.4h0M92.6 126.9h0M84.8 111.5h0M93.8 114.4h0M87.2 126.9h0M92.0 108.5h0M88.5 125.2h0M95.1 111.3h0M90.4 106.2h0M87.3 89.4h0M94.1 124.2h0M89.5 108.1h0M95.7 119.8h0M89.2 93.2h0M96.5 128.4h0M84.6 122.3h0M86.1 111.2h0M85.8 118.3h0M89.0 109.8h0M89.8 84.1h0M91.8 117.3h0M93.9 116.4h0M92.8 118.4h0M87.7 128.7h0M93.0 129.3h0M94.6 120.9h0M89.2 112.4h0M89.7 98.3h0M90.4 94.8h0M89.2 87.5h0M90.7 123.3h0M87.4 97.9h0M87.4 104.3h0M94.6 117.6h0M90.9 96.6h0M87.1 102.9h0M92.9 119.1h0M91.9 103.9h0M85.5 96.3h0M91.9 122.6h0M88.3 98.3h0M86.5 92.7h0M95.6 115.7h0M87.2 110.1h0M92.9 128.4h0M87.2 109.6h0M95.2 121.2h0M88.8 105.9h0M94.3 113.6h0M87.1 128.6h0M88.9 97.7h0M89.0 123.6h0M94.0 109.7h0M86.3 124.3h0M91.1 113.3h0M93.8 119.5h0M86.2 122.8h0M93.4 128.2h0M89.3 110.2h0M94.5 125.4h0M95.6 126.2h0M87.9 120.4h0M91.2 120.3h0M85.9 102.4h0M85.7 112.1h0M93.0 113.1h0M93.2 103.0h0M86.6 110.8h0M91.5 108.2h0M89.0 121.8h0M91.5 94.4h0M85.3 106.2h0M94.3 116.1h0M89.4 97.7h0M90.4 86.7h0M89.1 104.8h0M84.8 123.7h0M90.9 122.2h0M86.8 92.3h0M91.0 99.6h0M86.4 127.4h0M88.8 112.2h0M93.1 111.5h0M87.5 117.8h0M92.8 119.4h0M88.2 105.3h0M84.5 118.2h0M86.6 113.4h0M95.8 128.5h0M95.9 127.1h0M96.2 122.4h0M95.6 125.3h0M91.2 87.9h0M85.9 120.8h0M95.0 114.4h0M83.4 128.0h0M87.5 88.6h0M95.0 115.7h0M85.5 125.0h0M91.6 116.3h0M88.6 129.3h0M91.0 127.5h0M90.1 121.6h0M94.0 107.7h0M90.6 111.4h0M86.6 109.0h0M88.5 128.3h0M84.9 115.4h0M87.8 105.5h0M90.6 113.8h0M92.7 106.7h0M88.5 120.5h0M86.3 119.6h0M89.1 83.2h0M88.7 105.0h0M90.5 114.2h0M85.2 124.1h0M90.8 124.9h0M91.3 113.7h0M85.9 113.7h0M88.7 122.5h0M85.4 122.9h0M88.7 109.0h0M96.1 129.4h0M87.2 103.7h0M87.2 91.0h0M85.2 129.3h0M90.2 93.3h0M88.7 101.3h0M89.2 113.5h0M95.3 121.6h0M89.7 106.7h0M96.4 127.3h0M94.2 116.0h0M89.2 109.4h0M90.2 104.7h0M92.8 124.2h0M90.0 97.7h0M91.6 128.0h0M92.9 116.4h0M92.1 102.0h0M87.2 99.6h0M95.0 123.0h0M95.1 117.1h0M89.0 109.9h0M90.6 119.2h0M95.1 122.1h0M92.5 127.6h0M89.3 121.6h0M92.3 117.9h0M86.3 109.2h0M94.1 105.1h0M87.8 116.9h0M96.3 127.6h0M95.0 124.2h0M87.4 114.2h0M87.5 123.4h0M96.3 128.0h0M92.5 115.3h0M87.3 114.9h0M86.7 121.4h0M95.8 120.3h0M94.6 110.8h0M91.7 128.4h0M89.5 102.6h0M84.8 112.8h0M93.1 107.3h0M95.8 128.3h0M93.1 126.9h0M93.2 119.9h0M94.4 113.5h0M86.0 99.0h0M91.3 90.4h0M91.5 105.6h0M93.8 110.6h0M89.9 111.5h0M95.8 121.5h0M84.7 117.7h0M84.5 122.4h0M92.9 108.3h0M86.7 99.5h0M90.2 114.9h0M88.3 101.2h0M94.8 121.0h0M89.5 119.5h0M89.0 112.3h0M92.7 120.8h0M89.8 83.4h0M96.1 125.4h0M86.8 122.5h0M85.6 117.8h0M88.0 100.2h0M89.1 126.7h0M93.9 128.9h0M90.9 99.0h0M93.0 114.9h0M85.6 116.3h0M90.4 96.9h0M92.3 116.4h0M83.9 126.3h0M89.4 114.1h0M94.6 122.8h0M85.5 104.1h0M95.4 114.8h0M93.9 127.1h0M93.0 128.6h0M89.4 85.0h0M92.8 117.5h0M87.0 117.7h0M94.6 120.3h0M92.2 127.0h0M94.1 122.8h0M84.1 125.4h0M95.1 123.8h0M88.2 90.9h0M85.1 117.7h0M92.1 100.7h0M93.6 116.8h0M95.9 126.8h0M95.2 113.0h0M84.6 128.4h0M85.6 129.3h0M85.4 127.9h0M92.1 119.1h0M91.2 125.2h0M95.4 126.3h0M89.1 116.6h0M94.5 105.8h0M88.3 114.4h0M85.0 116.5h0M87.3 98.4h0M89.9 129.3h0M89.0 101.1h0M86.7 91.6h0M91.4 124.7h0M93.6 110.8h0M89.2 107.8h0M85.4 115.1h0M95.4 124.5h0M91.1 91.5h0M87.0 104.7h0M86.7 120.4h0M89.2 112.5h0M92.8 123.6h0M95.3 116.5h0M95.7 116.2h0M90.9 118.7h0M85.6 101.7h0M89.4 97.6h0M90.6 87.3h0M90.0 84.8h0M92.1 125.1h0M90.1 85.4h0M95.3 119.3h0M87.8 89.3h0M90.6 106.9h0M93.3 116.2h0M94.8 127.6h0M95.0 121.5h0M86.9 115.0h0M89.8 129.0h0M88.4 124.6h0M96.2 126.4h0M96.4 129.1h0M87.6 105.1h0M89.5 122.9h0M88.5 108.1h0M90.2 124.3h0M91.2 124.2h0M85.7 129.0h0M85.8 104.5h0M93.9 117.9h0M94.3 114.4h0M86.0 114.6h0M92.2 104.0h0M89.4 86.3h0M93.3 115.2h0M93.3 108.0h0M92.5 113.7h0M88.0 122.1h0M90.3 116.2h0M92.0 108.6h0M92.5 101.3h0M94.9 115.3h0M84.1 123.8h0M86.2 113.7h0M86.0 124.1h0M87.2 92.0h0M89.1 123.6h0M89.2 112.9h0M96.5 126.6h0M94.9 115.2h0M89.9 95.1h0M85.9 97.2h0M94.7 122.3h0M95.7 128.0h0M87.4 102.5h0M92.4 103.1h0M86.3 112.9h0M85.0 125.9h0M86.5 102.2h0M95.9 128.3h0M85.5 116.3h0M88.2 102.4h0M91.7 95.5h0M93.7 120.1h0M92.4 119.2h0M84.8 126.2h0M93.2 123.4h0M93.6 110.5h0M85.6 103.9h0M87.0 126.7h0M87.9 117.3h0M93.8 109.8h0M95.0 115.5h0M95.9 127.3h0M92.4 125.3h0M92.3 129.4h0M86.3 126.9h0M93.1 118.7h0M96.4 127.9h0M88.4 87.4h0M87.4 99.1h0M93.1 106.6h0M86.3 99.3h0M94.0 124.0h0M88.8 102.7h0M86.5 112.4h0M92.2 116.6h0M91.6 99.9h0M91.9 104.0h0M90.7 122.7h0M85.7 118.8h0M93.9 124.9h0M86.5 108.0h0M86.7 122.1h0M93.9 108.5h0M84.4 121.4h0M92.8 113.4h0M85.4 109.9h0M87.0 108.9h0M90.4 118.7h0M93.9 124.8h0M90.9 115.9h0M96.4 128.2h0M91.6 106.3h0M88.5 124.4h0M85.0 103.8h0M90.1 106.1h0M88.7 110.9h0M96.5 128.2h0M89.3 119.7h0M87.5 96.3h0M87.3 125.3h0M93.0 111.9h0M94.1 110.0h0M86.1 128.1h0M86.8 112.6h0M94.9 109.5h0M85.9 122.2h0M91.3 110.1h0M87.2 98.2h0M86.0 112.5h0M93.1 124.1h0M89.0 108.8h0M85.2 107.3h0M92.4 111.7h0M90.8 109.1h0M96.0 128.5h0M87.6 119.6h0M91.8 115.5h0M94.3 120.1h0M86.9 90.9h0M90.3 99.2h0M96.5 127.5h0M94.4 107.7h0M95.8 128.3h0M87.9 110.9h0M84.4 125.5h0M89.4 87.0h0M94.6 119.1h0M91.2 92.3h0M93.4 114.9h0M90.3 103.5h0M85.2 111.5h0M88.3 93.3h0M89.9 123.5h0M88.7 109.8h0M95.1 121.5h0M95.8 124.0h0M85.6 102.6h0M85.9 108.1h0M96.5 128.4h0M95.6 127.2h0M86.7 120.6h0M92.5 121.6h0M86.1 128.3h0M92.4 126.3h0M91.7 116.9h0M88.1 127.9h0M86.8 118.3h0M86.2 110.2h0M93.2 107.7h0M84.7 119.8h0M84.8 126.7h0M94.7 110.1h0M94.6 123.5h0M89.6 112.2h0M95.5 120.1h0M84.1 119.9h0M95.8 129.1h0M87.3 88.0h0M89.4 92.8h0M88.4 117.2h0M91.9 95.4h0M94.9 121.4h0M89.2 97.6h0M89.9 95.2h0M88.4 97.3h0M87.4 110.7h0M92.9 128.5h0M93.7 122.1h0M91.8 112.7h0M87.1 95.8h0M91.2 119.4h0M94.8 109.9h0M85.5 123.9h0M95.5 121.1h0M85.6 119.6h0M85.9 121.2h0M91.8 116.1h0M84.1 126.4h0M84.4 128.8h0M92.4 105.6h0M95.5 121.2h0M94.6 117.0h0M95.7 127.7h0M85.4 120.9h0M87.8 90.8h0M88.4 92.9h0M85.3 123.7h0M89.5 89.5h0M88.4 125.6h0M96.2 126.1h0M94.4 126.9h0M84.3 112.1h0M84.5 118.9h0M84.9 108.2h0M86.5 106.1h0M85.9 125.7h0M94.5 128.6h0M86.0 119.7h0M92.6 109.8h0M95.8 129.1h0M92.2 100.3h0M90.2 117.7h0M84.5 126.0h0M91.3 88.0h0M92.6 104.2h0M85.9 95.1h0M85.9 103.6h0M85.7 118.1h0M95.5 124.1h0M88.7 118.5h0M92.7 106.7h0M90.0 121.3h0M91.2 111.5h0M87.9 109.9h0M95.1 123.8h0M95.8 128.7h0M89.9 128.7h0M88.0 127.2h0M85.6 114.3h0M92.8 128.2h0M94.7 117.8h0M86.5 97.5h0M95.3 128.6h0M93.9 125.6h0M84.7 118.3h0M85.5 100.7h0M87.7 110.1h0M92.6 111.9h0M96.1 128.0h0M94.4 125.2h0M90.7 99.4h0M95.0 124.9h0M92.3 124.3h0M96.7 127.5h0M85.4 108.5h0M89.7 125.1h0M92.3 111.2h0M91.2 102.3h0M88.3 128.8h0M93.7 126.5h0M92.6 120.0h0M88.3 112.9h0M88.3 96.6h0M96.2 125.1h0M67.9 59.2h0M69.2 64.0h0M70.6 74.9h0M69.8 79.4h0M90.6 47.4h0M92.1 47.4h0M91.3 48.3h0M93.2 55.5h0M94.3 61.1h0M90.9 64.9h0M92.5 65.8h0M96.0 68.3h0M92.8 75.3h0M94.7 78.7h0M88.1 81.3h0M98.5 104.2h0M52.8 117.2h0M54.2 118.7h0M69.8 15.6h0M53.5 121.0h0M97.8 118.0h0M53.8 117.7h0M55.2 125.1h0M54.9 119.8h0M55.5 125.7h0M52.5 122.7h0M52.5 126.2h0M55.3 119.9h0M55.0 118.6h0M52.0 121.0h0M95.8 118.3h0M97.8 120.4h0M96.3 114.1h0M97.0 119.2h0M97.9 113.4h0M96.8 118.2h0M96.6 113.7h0" stroke="#000" stroke-width="1.9" stroke-linecap="round" fill="none"/>
<path d="M69.3 97.8h0M66.3 105.7h0M71.5 84.2h0M70.8 103.5h0M63.8 103.2h0M68.7 111.2h0M70.7 94.8h0M68.8 92.1h0M73.2 112.7h0M64.1 102.6h0M72.8 96.7h0M66.9 104.8h0M74.5 101.9h0M71.6 107.4h0M73.1 99.2h0M63.3 99.2h0M75.9 83.3h0M78.0 97.2h0M70.6 106.2h0M74.3 101.2h0M68.3 111.2h0M72.8 91.7h0M75.3 109.8h0M66.5 96.7h0M65.3 90.9h0M77.8 97.9h0M67.4 98.2h0M75.3 103.6h0M73.5 95.2h0M77.5 92.3h0M73.8 97.1h0M77.2 97.0h0M74.1 104.7h0M65.0 100.0h0M66.8 86.9h0M66.7 89.0h0M68.5 108.9h0M72.3 104.3h0M78.8 105.0h0M64.9 106.7h0M65.0 101.6h0M71.5 104.5h0M73.8 100.3h0M76.1 93.4h0M67.3 90.3h0M63.7 109.6h0M63.7 93.8h0M71.7 87.4h0M78.8 113.2h0M77.4 114.2h0M74.3 89.0h0M69.3 86.9h0M75.3 98.6h0M67.7 110.0h0M64.5 101.4h0M71.5 108.7h0M71.6 112.2h0M68.0 94.5h0M65.7 100.5h0M65.4 90.9h0" stroke="#e3202c" stroke-width="2.1" stroke-linecap="round" fill="none"/>
<path d="M66.9 112.3h0M77.2 113.2h0M67.9 105.3h0M64.8 113.4h0M73.9 87.2h0M65.8 89.1h0M68.9 112.4h0M75.3 95.3h0M75.6 86.5h0M71.8 97.1h0M64.9 111.9h0M73.4 114.1h0M73.2 103.6h0M65.7 99.5h0M76.9 101.8h0M73.1 99.1h0M69.0 86.5h0M67.0 91.4h0M65.1 87.7h0M74.9 114.1h0M74.0 109.4h0M66.9 110.0h0M69.4 110.1h0M67.3 94.6h0M71.5 92.4h0M67.6 106.5h0M75.3 113.7h0M73.4 96.0h0M70.7 102.6h0M72.5 111.9h0M72.1 113.1h0M70.8 98.7h0M64.2 95.3h0M70.9 86.5h0M70.2 89.4h0M67.7 110.9h0M77.2 89.4h0M72.4 99.8h0M64.6 94.5h0M71.6 98.1h0M72.1 88.0h0M72.8 103.3h0M66.6 102.1h0M77.5 111.1h0M72.8 100.8h0" stroke="#000" stroke-width="1.8" stroke-linecap="round" fill="none"/>
<path d="M73.9 95.9h0M77.4 99.6h0M72.9 86.2h0M69.8 106.9h0M76.4 89.8h0" stroke="#3cb54a" stroke-width="1.8" stroke-linecap="round" fill="none"/>
<line x1="44.50" y1="7.60" x2="44.50" y2="130.70" stroke="#000" stroke-width="1.4"/>
<line x1="43.80" y1="130.00" x2="125.90" y2="130.00" stroke="#000" stroke-width="1.4"/>
<line x1="42.30" y1="8.30" x2="44.50" y2="8.30" stroke="#000" stroke-width="1.0"/>
<text x="41.00" y="10.90" font-size="7.3" text-anchor="end" font-weight="bold">−10</text>
<line x1="42.30" y1="32.64" x2="44.50" y2="32.64" stroke="#000" stroke-width="1.0"/>
<text x="41.00" y="35.24" font-size="7.3" text-anchor="end" font-weight="bold">−8</text>
<line x1="42.30" y1="56.98" x2="44.50" y2="56.98" stroke="#000" stroke-width="1.0"/>
<text x="41.00" y="59.58" font-size="7.3" text-anchor="end" font-weight="bold">−6</text>
<line x1="42.30" y1="81.32" x2="44.50" y2="81.32" stroke="#000" stroke-width="1.0"/>
<text x="41.00" y="83.92" font-size="7.3" text-anchor="end" font-weight="bold">−4</text>
<line x1="42.30" y1="105.66" x2="44.50" y2="105.66" stroke="#000" stroke-width="1.0"/>
<text x="41.00" y="108.26" font-size="7.3" text-anchor="end" font-weight="bold">−2</text>
<line x1="42.30" y1="130.00" x2="44.50" y2="130.00" stroke="#000" stroke-width="1.0"/>
<text x="41.00" y="132.60" font-size="7.3" text-anchor="end" font-weight="bold">0</text>
<line x1="44.60" y1="130.00" x2="44.60" y2="132.20" stroke="#000" stroke-width="1.0"/>
<text x="43.80" y="140.10" font-size="6.8" text-anchor="middle" font-weight="bold">−8</text>
<line x1="54.70" y1="130.00" x2="54.70" y2="132.20" stroke="#000" stroke-width="1.0"/>
<text x="53.90" y="140.10" font-size="6.8" text-anchor="middle" font-weight="bold">−6</text>
<line x1="64.80" y1="130.00" x2="64.80" y2="132.20" stroke="#000" stroke-width="1.0"/>
<text x="64.00" y="140.10" font-size="6.8" text-anchor="middle" font-weight="bold">−4</text>
<line x1="74.90" y1="130.00" x2="74.90" y2="132.20" stroke="#000" stroke-width="1.0"/>
<text x="74.10" y="140.10" font-size="6.8" text-anchor="middle" font-weight="bold">−2</text>
<line x1="85.00" y1="130.00" x2="85.00" y2="132.20" stroke="#000" stroke-width="1.0"/>
<text x="85.00" y="140.10" font-size="6.8" text-anchor="middle" font-weight="bold">0</text>
<line x1="95.10" y1="130.00" x2="95.10" y2="132.20" stroke="#000" stroke-width="1.0"/>
<text x="95.10" y="140.10" font-size="6.8" text-anchor="middle" font-weight="bold">2</text>
<line x1="105.20" y1="130.00" x2="105.20" y2="132.20" stroke="#000" stroke-width="1.0"/>
<text x="105.20" y="140.10" font-size="6.8" text-anchor="middle" font-weight="bold">4</text>
<line x1="115.30" y1="130.00" x2="115.30" y2="132.20" stroke="#000" stroke-width="1.0"/>
<text x="115.30" y="140.10" font-size="6.8" text-anchor="middle" font-weight="bold">6</text>
<line x1="125.40" y1="130.00" x2="125.40" y2="132.20" stroke="#000" stroke-width="1.0"/>
<text x="125.40" y="140.10" font-size="6.8" text-anchor="middle" font-weight="bold">8</text>
<text transform="translate(27.11 67.70) rotate(-90)" font-size="6.7" text-anchor="middle">Log(FDR)</text>
<text x="84.8" y="151.8" font-size="6.8" text-anchor="middle"><tspan font-size="4.4" dy="-2.5">2</tspan><tspan dy="2.5">Log(FC)</tspan></text>
<circle cx="132.30" cy="13.80" r="1.5" fill="#3cb54a"/>
<text x="141.90" y="16.00" font-size="6.2" fill="#222">Atr/Chk1</text>
<circle cx="132.30" cy="24.60" r="1.5" fill="#e3202c"/>
<text x="141.90" y="26.80" font-size="6.1" fill="#222">Replication stress</text>
<circle cx="132.30" cy="35.60" r="1.5" fill="#000"/>
<text x="141.90" y="37.80" font-size="6.65" fill="#222">Other sgRNAs</text>
<line x1="248.70" y1="20.40" x2="248.70" y2="88.70" stroke="#000" stroke-width="1.4"/>
<line x1="248.00" y1="88.00" x2="350.00" y2="88.00" stroke="#000" stroke-width="1.4"/>
<line x1="246.10" y1="88.00" x2="248.70" y2="88.00" stroke="#000" stroke-width="1.0"/>
<text x="245.80" y="90.10" font-size="5.9" text-anchor="end" font-weight="bold">0</text>
<line x1="246.10" y1="72.78" x2="248.70" y2="72.78" stroke="#000" stroke-width="1.0"/>
<text x="245.80" y="74.88" font-size="5.9" text-anchor="end" font-weight="bold">25</text>
<line x1="246.10" y1="57.55" x2="248.70" y2="57.55" stroke="#000" stroke-width="1.0"/>
<text x="245.80" y="59.65" font-size="5.9" text-anchor="end" font-weight="bold">50</text>
<line x1="246.10" y1="42.33" x2="248.70" y2="42.33" stroke="#000" stroke-width="1.0"/>
<text x="245.80" y="44.43" font-size="5.9" text-anchor="end" font-weight="bold">75</text>
<line x1="246.10" y1="27.10" x2="248.70" y2="27.10" stroke="#000" stroke-width="1.0"/>
<text x="245.80" y="29.20" font-size="5.9" text-anchor="end" font-weight="bold">100</text>
<line x1="256.00" y1="88.00" x2="256.00" y2="90.40" stroke="#000" stroke-width="1.0"/>
<text x="255.20" y="96.10" font-size="6.4" text-anchor="middle" font-weight="bold">10<tspan font-size="4.3" dy="-2.8">0</tspan></text>
<line x1="293.50" y1="88.00" x2="293.50" y2="90.40" stroke="#000" stroke-width="1.0"/>
<text x="292.70" y="96.10" font-size="6.4" text-anchor="middle" font-weight="bold">10<tspan font-size="4.3" dy="-2.8">1</tspan></text>
<line x1="331.00" y1="88.00" x2="331.00" y2="90.40" stroke="#000" stroke-width="1.0"/>
<text x="330.20" y="96.10" font-size="6.4" text-anchor="middle" font-weight="bold">10<tspan font-size="4.3" dy="-2.8">2</tspan></text>
<path d="M251.1 28.7L252.7 28.7L254.2 28.7L255.7 28.7L257.2 28.7L258.8 28.7L260.3 28.7L261.8 28.8L263.4 28.8L264.9 28.8L266.4 28.9L268.0 28.9L269.5 29.0L271.0 29.1L272.6 29.2L274.1 29.4L275.6 29.5L277.2 29.7L278.7 30.0L280.2 30.3L281.8 30.6L283.3 31.1L284.8 31.6L286.3 32.2L287.9 33.0L289.4 33.9L290.9 35.0L292.5 36.3L294.0 37.8L295.5 39.5L297.1 41.4L298.6 43.6L300.1 46.0L301.7 48.6L303.2 51.4L304.7 54.3L306.2 57.2L307.8 60.2L309.3 63.1L310.8 65.9L312.4 68.5L313.9 70.9L315.4 73.1L317.0 75.1L318.5 76.8L320.0 78.3L321.6 79.6L323.1 80.8L324.6 81.7L326.2 82.5L327.7 83.1L329.2 83.7L330.8 84.1L332.3 84.5L333.8 84.8L335.3 85.1L336.9 85.3L338.4 85.4L339.9 85.6L341.5 85.7L343.0 85.8" stroke="#27408b" stroke-width="1.7" fill="none" stroke-linejoin="round" stroke-linecap="round"/>
<line x1="251.98" y1="27.10" x2="251.98" y2="29.54" stroke="#27408b" stroke-width="1.15"/>
<line x1="250.08" y1="27.10" x2="253.88" y2="27.10" stroke="#27408b" stroke-width="1.15"/>
<line x1="250.08" y1="29.54" x2="253.88" y2="29.54" stroke="#27408b" stroke-width="1.15"/>
<rect x="250.68" y="27.02" width="2.60" height="2.60" fill="#27408b"/>
<line x1="263.27" y1="27.71" x2="263.27" y2="30.15" stroke="#27408b" stroke-width="1.15"/>
<line x1="261.37" y1="27.71" x2="265.17" y2="27.71" stroke="#27408b" stroke-width="1.15"/>
<line x1="261.37" y1="30.15" x2="265.17" y2="30.15" stroke="#27408b" stroke-width="1.15"/>
<rect x="261.97" y="27.63" width="2.60" height="2.60" fill="#27408b"/>
<line x1="274.56" y1="28.93" x2="274.56" y2="31.36" stroke="#27408b" stroke-width="1.15"/>
<line x1="272.66" y1="28.93" x2="276.46" y2="28.93" stroke="#27408b" stroke-width="1.15"/>
<line x1="272.66" y1="31.36" x2="276.46" y2="31.36" stroke="#27408b" stroke-width="1.15"/>
<rect x="273.26" y="28.85" width="2.60" height="2.60" fill="#27408b"/>
<line x1="285.85" y1="31.36" x2="285.85" y2="35.02" stroke="#27408b" stroke-width="1.15"/>
<line x1="283.95" y1="31.36" x2="287.75" y2="31.36" stroke="#27408b" stroke-width="1.15"/>
<line x1="283.95" y1="35.02" x2="287.75" y2="35.02" stroke="#27408b" stroke-width="1.15"/>
<rect x="284.55" y="31.89" width="2.60" height="2.60" fill="#27408b"/>
<line x1="297.13" y1="41.72" x2="297.13" y2="45.37" stroke="#27408b" stroke-width="1.15"/>
<line x1="295.23" y1="41.72" x2="299.03" y2="41.72" stroke="#27408b" stroke-width="1.15"/>
<line x1="295.23" y1="45.37" x2="299.03" y2="45.37" stroke="#27408b" stroke-width="1.15"/>
<rect x="295.83" y="42.24" width="2.60" height="2.60" fill="#27408b"/>
<line x1="308.42" y1="58.16" x2="308.42" y2="60.59" stroke="#27408b" stroke-width="1.15"/>
<line x1="306.52" y1="58.16" x2="310.32" y2="58.16" stroke="#27408b" stroke-width="1.15"/>
<line x1="306.52" y1="60.59" x2="310.32" y2="60.59" stroke="#27408b" stroke-width="1.15"/>
<rect x="307.12" y="58.08" width="2.60" height="2.60" fill="#27408b"/>
<line x1="319.71" y1="77.95" x2="319.71" y2="79.78" stroke="#27408b" stroke-width="1.15"/>
<line x1="317.81" y1="77.95" x2="321.61" y2="77.95" stroke="#27408b" stroke-width="1.15"/>
<line x1="317.81" y1="79.78" x2="321.61" y2="79.78" stroke="#27408b" stroke-width="1.15"/>
<rect x="318.41" y="77.56" width="2.60" height="2.60" fill="#27408b"/>
<line x1="331.00" y1="84.35" x2="331.00" y2="85.56" stroke="#27408b" stroke-width="1.15"/>
<line x1="329.10" y1="84.35" x2="332.90" y2="84.35" stroke="#27408b" stroke-width="1.15"/>
<line x1="329.10" y1="85.56" x2="332.90" y2="85.56" stroke="#27408b" stroke-width="1.15"/>
<rect x="329.70" y="83.66" width="2.60" height="2.60" fill="#27408b"/>
<line x1="342.29" y1="84.65" x2="342.29" y2="86.48" stroke="#27408b" stroke-width="1.15"/>
<line x1="340.39" y1="84.65" x2="344.19" y2="84.65" stroke="#27408b" stroke-width="1.15"/>
<line x1="340.39" y1="86.48" x2="344.19" y2="86.48" stroke="#27408b" stroke-width="1.15"/>
<rect x="340.99" y="84.26" width="2.60" height="2.60" fill="#27408b"/>
<path d="M251.1 27.5L252.7 27.8L254.2 28.0L255.7 28.3L257.2 28.5L258.8 28.7L260.3 29.0L261.8 29.2L263.4 29.5L264.9 29.7L266.4 30.0L268.0 30.2L269.5 30.5L271.0 30.7L272.6 30.9L274.1 31.2L275.6 31.4L277.2 31.7L278.7 31.9L280.2 32.2L281.8 32.4L283.3 32.6L284.8 32.9L286.3 33.1L287.9 33.4L289.4 33.6L290.9 33.9L292.5 34.1L294.0 34.4L295.5 34.6L297.1 34.8L298.6 35.1L300.1 35.3L301.7 35.6L303.2 35.8L304.7 36.1L306.2 36.3L307.8 36.5L309.3 36.8L310.8 37.0L312.4 37.3L313.9 37.5L315.4 37.8L317.0 38.0L318.5 38.3L320.0 38.5L321.6 38.7L323.1 39.0L324.6 39.2L326.2 39.5L327.7 39.7L329.2 40.0L330.8 40.2L332.3 40.4L333.8 40.7L335.3 40.9L336.9 41.2L338.4 41.4L339.9 41.7L341.5 41.9L343.0 42.2" stroke="#3cb54a" stroke-width="2.0" fill="none" stroke-linejoin="round" stroke-linecap="round"/>
<line x1="251.98" y1="23.45" x2="251.98" y2="31.97" stroke="#3cb54a" stroke-width="1.15"/>
<line x1="250.08" y1="23.45" x2="253.88" y2="23.45" stroke="#3cb54a" stroke-width="1.15"/>
<line x1="250.08" y1="31.97" x2="253.88" y2="31.97" stroke="#3cb54a" stroke-width="1.15"/>
<rect x="250.68" y="26.41" width="2.60" height="2.60" fill="#3cb54a"/>
<line x1="263.27" y1="25.88" x2="263.27" y2="31.97" stroke="#3cb54a" stroke-width="1.15"/>
<line x1="261.37" y1="25.88" x2="265.17" y2="25.88" stroke="#3cb54a" stroke-width="1.15"/>
<line x1="261.37" y1="31.97" x2="265.17" y2="31.97" stroke="#3cb54a" stroke-width="1.15"/>
<rect x="261.97" y="27.63" width="2.60" height="2.60" fill="#3cb54a"/>
<line x1="274.56" y1="27.10" x2="274.56" y2="33.19" stroke="#3cb54a" stroke-width="1.15"/>
<line x1="272.66" y1="27.10" x2="276.46" y2="27.10" stroke="#3cb54a" stroke-width="1.15"/>
<line x1="272.66" y1="33.19" x2="276.46" y2="33.19" stroke="#3cb54a" stroke-width="1.15"/>
<rect x="273.26" y="28.85" width="2.60" height="2.60" fill="#3cb54a"/>
<line x1="285.85" y1="28.93" x2="285.85" y2="36.23" stroke="#3cb54a" stroke-width="1.15"/>
<line x1="283.95" y1="28.93" x2="287.75" y2="28.93" stroke="#3cb54a" stroke-width="1.15"/>
<line x1="283.95" y1="36.23" x2="287.75" y2="36.23" stroke="#3cb54a" stroke-width="1.15"/>
<rect x="284.55" y="31.28" width="2.60" height="2.60" fill="#3cb54a"/>
<line x1="297.13" y1="30.15" x2="297.13" y2="37.45" stroke="#3cb54a" stroke-width="1.15"/>
<line x1="295.23" y1="30.15" x2="299.03" y2="30.15" stroke="#3cb54a" stroke-width="1.15"/>
<line x1="295.23" y1="37.45" x2="299.03" y2="37.45" stroke="#3cb54a" stroke-width="1.15"/>
<rect x="295.83" y="32.50" width="2.60" height="2.60" fill="#3cb54a"/>
<line x1="308.42" y1="33.19" x2="308.42" y2="39.28" stroke="#3cb54a" stroke-width="1.15"/>
<line x1="306.52" y1="33.19" x2="310.32" y2="33.19" stroke="#3cb54a" stroke-width="1.15"/>
<line x1="306.52" y1="39.28" x2="310.32" y2="39.28" stroke="#3cb54a" stroke-width="1.15"/>
<rect x="307.12" y="34.94" width="2.60" height="2.60" fill="#3cb54a"/>
<line x1="319.71" y1="35.63" x2="319.71" y2="40.50" stroke="#3cb54a" stroke-width="1.15"/>
<line x1="317.81" y1="35.63" x2="321.61" y2="35.63" stroke="#3cb54a" stroke-width="1.15"/>
<line x1="317.81" y1="40.50" x2="321.61" y2="40.50" stroke="#3cb54a" stroke-width="1.15"/>
<rect x="318.41" y="36.76" width="2.60" height="2.60" fill="#3cb54a"/>
<line x1="331.00" y1="30.15" x2="331.00" y2="45.98" stroke="#3cb54a" stroke-width="1.15"/>
<line x1="329.10" y1="30.15" x2="332.90" y2="30.15" stroke="#3cb54a" stroke-width="1.15"/>
<line x1="329.10" y1="45.98" x2="332.90" y2="45.98" stroke="#3cb54a" stroke-width="1.15"/>
<rect x="329.70" y="36.76" width="2.60" height="2.60" fill="#3cb54a"/>
<line x1="342.29" y1="39.89" x2="342.29" y2="44.76" stroke="#3cb54a" stroke-width="1.15"/>
<line x1="340.39" y1="39.89" x2="344.19" y2="39.89" stroke="#3cb54a" stroke-width="1.15"/>
<line x1="340.39" y1="44.76" x2="344.19" y2="44.76" stroke="#3cb54a" stroke-width="1.15"/>
<rect x="340.99" y="41.03" width="2.60" height="2.60" fill="#3cb54a"/>
<text x="301.20" y="107.00" font-size="7.4" text-anchor="middle" font-weight="bold">AZD7762 (nmol/L)</text>
<text transform="translate(231.14 56.70) rotate(-90)" font-size="7.6" text-anchor="middle" font-weight="bold">Cell viability (%)</text>
<line x1="381.30" y1="20.40" x2="381.30" y2="88.70" stroke="#000" stroke-width="1.4"/>
<line x1="380.60" y1="88.00" x2="481.30" y2="88.00" stroke="#000" stroke-width="1.4"/>
<line x1="378.70" y1="88.00" x2="381.30" y2="88.00" stroke="#000" stroke-width="1.0"/>
<text x="378.40" y="90.10" font-size="5.9" text-anchor="end" font-weight="bold">0</text>
<line x1="378.70" y1="72.78" x2="381.30" y2="72.78" stroke="#000" stroke-width="1.0"/>
<text x="378.40" y="74.88" font-size="5.9" text-anchor="end" font-weight="bold">25</text>
<line x1="378.70" y1="57.55" x2="381.30" y2="57.55" stroke="#000" stroke-width="1.0"/>
<text x="378.40" y="59.65" font-size="5.9" text-anchor="end" font-weight="bold">50</text>
<line x1="378.70" y1="42.33" x2="381.30" y2="42.33" stroke="#000" stroke-width="1.0"/>
<text x="378.40" y="44.43" font-size="5.9" text-anchor="end" font-weight="bold">75</text>
<line x1="378.70" y1="27.10" x2="381.30" y2="27.10" stroke="#000" stroke-width="1.0"/>
<text x="378.40" y="29.20" font-size="5.9" text-anchor="end" font-weight="bold">100</text>
<line x1="385.50" y1="88.00" x2="385.50" y2="90.40" stroke="#000" stroke-width="1.0"/>
<text x="384.70" y="96.10" font-size="6.4" text-anchor="middle" font-weight="bold">10<tspan font-size="4.3" dy="-2.8">1</tspan></text>
<line x1="424.50" y1="88.00" x2="424.50" y2="90.40" stroke="#000" stroke-width="1.0"/>
<text x="423.70" y="96.10" font-size="6.4" text-anchor="middle" font-weight="bold">10<tspan font-size="4.3" dy="-2.8">2</tspan></text>
<line x1="463.50" y1="88.00" x2="463.50" y2="90.40" stroke="#000" stroke-width="1.0"/>
<text x="462.70" y="96.10" font-size="6.4" text-anchor="middle" font-weight="bold">10<tspan font-size="4.3" dy="-2.8">3</tspan></text>
<path d="M384.7 28.4L386.3 28.4L387.9 28.4L389.5 28.4L391.1 28.4L392.6 28.5L394.2 28.5L395.8 28.5L397.4 28.6L399.0 28.6L400.6 28.7L402.2 28.8L403.8 28.9L405.3 29.1L406.9 29.3L408.5 29.5L410.1 29.8L411.7 30.1L413.3 30.5L414.9 31.0L416.4 31.6L418.0 32.3L419.6 33.2L421.2 34.3L422.8 35.5L424.4 37.0L426.0 38.7L427.5 40.6L429.1 42.9L430.7 45.3L432.3 48.0L433.9 50.9L435.5 53.9L437.1 56.9L438.6 60.0L440.2 63.0L441.8 65.9L443.4 68.5L445.0 71.0L446.6 73.2L448.2 75.2L449.7 76.9L451.3 78.4L452.9 79.6L454.5 80.7L456.1 81.5L457.7 82.3L459.3 82.9L460.8 83.4L462.4 83.8L464.0 84.1L465.6 84.4L467.2 84.6L468.8 84.8L470.4 84.9L471.9 85.1L473.5 85.2L475.1 85.2L476.7 85.3L478.3 85.4L479.9 85.4" stroke="#27408b" stroke-width="1.7" fill="none" stroke-linejoin="round" stroke-linecap="round"/>
<line x1="385.50" y1="27.10" x2="385.50" y2="29.54" stroke="#27408b" stroke-width="1.15"/>
<line x1="383.60" y1="27.10" x2="387.40" y2="27.10" stroke="#27408b" stroke-width="1.15"/>
<line x1="383.60" y1="29.54" x2="387.40" y2="29.54" stroke="#27408b" stroke-width="1.15"/>
<rect x="384.20" y="27.02" width="2.60" height="2.60" fill="#27408b"/>
<line x1="397.24" y1="27.10" x2="397.24" y2="29.54" stroke="#27408b" stroke-width="1.15"/>
<line x1="395.34" y1="27.10" x2="399.14" y2="27.10" stroke="#27408b" stroke-width="1.15"/>
<line x1="395.34" y1="29.54" x2="399.14" y2="29.54" stroke="#27408b" stroke-width="1.15"/>
<rect x="395.94" y="27.02" width="2.60" height="2.60" fill="#27408b"/>
<line x1="408.98" y1="27.71" x2="408.98" y2="30.15" stroke="#27408b" stroke-width="1.15"/>
<line x1="407.08" y1="27.71" x2="410.88" y2="27.71" stroke="#27408b" stroke-width="1.15"/>
<line x1="407.08" y1="30.15" x2="410.88" y2="30.15" stroke="#27408b" stroke-width="1.15"/>
<rect x="407.68" y="27.63" width="2.60" height="2.60" fill="#27408b"/>
<line x1="420.72" y1="32.58" x2="420.72" y2="35.02" stroke="#27408b" stroke-width="1.15"/>
<line x1="418.82" y1="32.58" x2="422.62" y2="32.58" stroke="#27408b" stroke-width="1.15"/>
<line x1="418.82" y1="35.02" x2="422.62" y2="35.02" stroke="#27408b" stroke-width="1.15"/>
<rect x="419.42" y="32.50" width="2.60" height="2.60" fill="#27408b"/>
<line x1="432.46" y1="46.89" x2="432.46" y2="49.94" stroke="#27408b" stroke-width="1.15"/>
<line x1="430.56" y1="46.89" x2="434.36" y2="46.89" stroke="#27408b" stroke-width="1.15"/>
<line x1="430.56" y1="49.94" x2="434.36" y2="49.94" stroke="#27408b" stroke-width="1.15"/>
<rect x="431.16" y="47.12" width="2.60" height="2.60" fill="#27408b"/>
<line x1="444.20" y1="69.73" x2="444.20" y2="73.38" stroke="#27408b" stroke-width="1.15"/>
<line x1="442.30" y1="69.73" x2="446.10" y2="69.73" stroke="#27408b" stroke-width="1.15"/>
<line x1="442.30" y1="73.38" x2="446.10" y2="73.38" stroke="#27408b" stroke-width="1.15"/>
<rect x="442.90" y="70.26" width="2.60" height="2.60" fill="#27408b"/>
<line x1="455.94" y1="82.52" x2="455.94" y2="83.74" stroke="#27408b" stroke-width="1.15"/>
<line x1="454.04" y1="82.52" x2="457.84" y2="82.52" stroke="#27408b" stroke-width="1.15"/>
<line x1="454.04" y1="83.74" x2="457.84" y2="83.74" stroke="#27408b" stroke-width="1.15"/>
<rect x="454.64" y="81.83" width="2.60" height="2.60" fill="#27408b"/>
<line x1="467.68" y1="83.43" x2="467.68" y2="85.26" stroke="#27408b" stroke-width="1.15"/>
<line x1="465.78" y1="83.43" x2="469.58" y2="83.43" stroke="#27408b" stroke-width="1.15"/>
<line x1="465.78" y1="85.26" x2="469.58" y2="85.26" stroke="#27408b" stroke-width="1.15"/>
<rect x="466.38" y="83.05" width="2.60" height="2.60" fill="#27408b"/>
<line x1="479.42" y1="84.95" x2="479.42" y2="86.17" stroke="#27408b" stroke-width="1.15"/>
<line x1="477.52" y1="84.95" x2="481.32" y2="84.95" stroke="#27408b" stroke-width="1.15"/>
<line x1="477.52" y1="86.17" x2="481.32" y2="86.17" stroke="#27408b" stroke-width="1.15"/>
<rect x="478.12" y="84.26" width="2.60" height="2.60" fill="#27408b"/>
<path d="M384.7 28.1L386.3 28.1L387.9 28.1L389.5 28.1L391.1 28.1L392.6 28.2L394.2 28.2L395.8 28.2L397.4 28.2L399.0 28.3L400.6 28.3L402.2 28.4L403.8 28.4L405.3 28.5L406.9 28.5L408.5 28.6L410.1 28.7L411.7 28.8L413.3 28.9L414.9 29.1L416.4 29.2L418.0 29.4L419.6 29.6L421.2 29.8L422.8 30.1L424.4 30.4L426.0 30.7L427.5 31.1L429.1 31.5L430.7 32.0L432.3 32.5L433.9 33.1L435.5 33.8L437.1 34.5L438.6 35.3L440.2 36.2L441.8 37.1L443.4 38.2L445.0 39.3L446.6 40.5L448.2 41.7L449.7 43.1L451.3 44.4L452.9 45.9L454.5 47.3L456.1 48.8L457.7 50.2L459.3 51.7L460.8 53.1L462.4 54.5L464.0 55.8L465.6 57.1L467.2 58.3L468.8 59.4L470.4 60.5L471.9 61.4L473.5 62.3L475.1 63.2L476.7 63.9L478.3 64.6L479.9 65.2" stroke="#3cb54a" stroke-width="2.0" fill="none" stroke-linejoin="round" stroke-linecap="round"/>
<line x1="385.50" y1="23.45" x2="385.50" y2="33.19" stroke="#3cb54a" stroke-width="1.15"/>
<line x1="383.60" y1="23.45" x2="387.40" y2="23.45" stroke="#3cb54a" stroke-width="1.15"/>
<line x1="383.60" y1="33.19" x2="387.40" y2="33.19" stroke="#3cb54a" stroke-width="1.15"/>
<rect x="384.20" y="27.02" width="2.60" height="2.60" fill="#3cb54a"/>
<line x1="397.24" y1="26.49" x2="397.24" y2="30.15" stroke="#3cb54a" stroke-width="1.15"/>
<line x1="395.34" y1="26.49" x2="399.14" y2="26.49" stroke="#3cb54a" stroke-width="1.15"/>
<line x1="395.34" y1="30.15" x2="399.14" y2="30.15" stroke="#3cb54a" stroke-width="1.15"/>
<rect x="395.94" y="27.02" width="2.60" height="2.60" fill="#3cb54a"/>
<line x1="408.98" y1="23.45" x2="408.98" y2="34.41" stroke="#3cb54a" stroke-width="1.15"/>
<line x1="407.08" y1="23.45" x2="410.88" y2="23.45" stroke="#3cb54a" stroke-width="1.15"/>
<line x1="407.08" y1="34.41" x2="410.88" y2="34.41" stroke="#3cb54a" stroke-width="1.15"/>
<rect x="407.68" y="27.63" width="2.60" height="2.60" fill="#3cb54a"/>
<line x1="420.72" y1="28.32" x2="420.72" y2="31.97" stroke="#3cb54a" stroke-width="1.15"/>
<line x1="418.82" y1="28.32" x2="422.62" y2="28.32" stroke="#3cb54a" stroke-width="1.15"/>
<line x1="418.82" y1="31.97" x2="422.62" y2="31.97" stroke="#3cb54a" stroke-width="1.15"/>
<rect x="419.42" y="28.85" width="2.60" height="2.60" fill="#3cb54a"/>
<line x1="432.46" y1="29.54" x2="432.46" y2="36.84" stroke="#3cb54a" stroke-width="1.15"/>
<line x1="430.56" y1="29.54" x2="434.36" y2="29.54" stroke="#3cb54a" stroke-width="1.15"/>
<line x1="430.56" y1="36.84" x2="434.36" y2="36.84" stroke="#3cb54a" stroke-width="1.15"/>
<rect x="431.16" y="31.89" width="2.60" height="2.60" fill="#3cb54a"/>
<line x1="444.20" y1="37.45" x2="444.20" y2="42.33" stroke="#3cb54a" stroke-width="1.15"/>
<line x1="442.30" y1="37.45" x2="446.10" y2="37.45" stroke="#3cb54a" stroke-width="1.15"/>
<line x1="442.30" y1="42.33" x2="446.10" y2="42.33" stroke="#3cb54a" stroke-width="1.15"/>
<rect x="442.90" y="38.59" width="2.60" height="2.60" fill="#3cb54a"/>
<line x1="455.94" y1="48.41" x2="455.94" y2="52.07" stroke="#3cb54a" stroke-width="1.15"/>
<line x1="454.04" y1="48.41" x2="457.84" y2="48.41" stroke="#3cb54a" stroke-width="1.15"/>
<line x1="454.04" y1="52.07" x2="457.84" y2="52.07" stroke="#3cb54a" stroke-width="1.15"/>
<rect x="454.64" y="48.94" width="2.60" height="2.60" fill="#3cb54a"/>
<line x1="467.68" y1="58.16" x2="467.68" y2="61.81" stroke="#3cb54a" stroke-width="1.15"/>
<line x1="465.78" y1="58.16" x2="469.58" y2="58.16" stroke="#3cb54a" stroke-width="1.15"/>
<line x1="465.78" y1="61.81" x2="469.58" y2="61.81" stroke="#3cb54a" stroke-width="1.15"/>
<rect x="466.38" y="58.69" width="2.60" height="2.60" fill="#3cb54a"/>
<line x1="479.42" y1="63.03" x2="479.42" y2="66.69" stroke="#3cb54a" stroke-width="1.15"/>
<line x1="477.52" y1="63.03" x2="481.32" y2="63.03" stroke="#3cb54a" stroke-width="1.15"/>
<line x1="477.52" y1="66.69" x2="481.32" y2="66.69" stroke="#3cb54a" stroke-width="1.15"/>
<rect x="478.12" y="63.56" width="2.60" height="2.60" fill="#3cb54a"/>
<text x="432.50" y="107.00" font-size="7.4" text-anchor="middle" font-weight="bold">VE822 (nmol/L)</text>
<text transform="translate(363.94 56.70) rotate(-90)" font-size="7.6" text-anchor="middle" font-weight="bold">Cell viability (%)</text>
<line x1="473.50" y1="25.40" x2="480.50" y2="25.40" stroke="#3cb54a" stroke-width="1.5"/>
<text x="484.60" y="27.70" font-size="6.4" fill="#333">MEF</text>
<line x1="473.50" y1="35.40" x2="480.50" y2="35.40" stroke="#27408b" stroke-width="1.5"/>
<text x="484.60" y="37.70" font-size="6.4" fill="#333">mSCLC</text>
<line x1="29.90" y1="183.30" x2="29.90" y2="276.95" stroke="#000" stroke-width="1.5"/>
<line x1="29.15" y1="276.20" x2="132.50" y2="276.20" stroke="#000" stroke-width="1.5"/>
<line x1="27.40" y1="276.20" x2="29.90" y2="276.20" stroke="#000" stroke-width="0.9"/>
<text x="26.70" y="277.70" font-size="4.2" text-anchor="end" font-weight="bold">0</text>
<line x1="27.40" y1="236.10" x2="29.90" y2="236.10" stroke="#000" stroke-width="0.9"/>
<text x="26.70" y="237.60" font-size="4.2" text-anchor="end" font-weight="bold">50</text>
<line x1="27.40" y1="196.00" x2="29.90" y2="196.00" stroke="#000" stroke-width="0.9"/>
<text x="26.70" y="197.50" font-size="4.2" text-anchor="end" font-weight="bold">100</text>
<line x1="37.50" y1="276.20" x2="37.50" y2="278.70" stroke="#000" stroke-width="0.9"/>
<text x="37.50" y="282.80" font-size="3.8" text-anchor="middle" font-weight="bold">10<tspan font-size="2.6" dy="-1.5">1</tspan></text>
<line x1="77.00" y1="276.20" x2="77.00" y2="278.70" stroke="#000" stroke-width="0.9"/>
<text x="77.00" y="282.80" font-size="3.8" text-anchor="middle" font-weight="bold">10<tspan font-size="2.6" dy="-1.5">1</tspan></text>
<line x1="116.30" y1="276.20" x2="116.30" y2="278.70" stroke="#000" stroke-width="0.9"/>
<text x="116.30" y="282.80" font-size="3.8" text-anchor="middle" font-weight="bold">10<tspan font-size="2.6" dy="-1.5">1</tspan></text>
<path d="M32.6 199.1L34.2 199.2L35.8 199.3L37.5 199.3L39.1 199.4L40.7 199.5L42.3 199.7L43.9 199.8L45.5 199.9L47.1 200.1L48.7 200.2L50.3 200.4L51.9 200.6L53.5 200.8L55.2 201.1L56.8 201.3L58.4 201.6L60.0 202.0L61.6 202.3L63.2 202.7L64.8 203.1L66.4 203.5L68.0 204.0L69.6 204.6L71.2 205.1L72.8 205.7L74.5 206.4L76.1 207.1L77.7 207.9L79.3 208.8L80.9 209.6L82.5 210.6L84.1 211.6L85.7 212.7L87.3 213.9L88.9 215.1L90.5 216.3L92.2 217.7L93.8 219.1L95.4 220.5L97.0 222.0L98.6 223.6L100.2 225.2L101.8 226.8L103.4 228.5L105.0 230.2L106.6 231.9L108.2 233.6L109.9 235.3L111.5 237.0L113.1 238.7L114.7 240.4L116.3 242.0L117.9 243.6L119.5 245.1L121.1 246.6L122.7 248.0L124.3 249.4L125.9 250.7L127.5 252.0L129.2 253.2" stroke="#27408b" stroke-width="1.8" fill="none" stroke-linejoin="round" stroke-linecap="round"/>
<line x1="33.80" y1="189.99" x2="33.80" y2="206.83" stroke="#27408b" stroke-width="1.15"/>
<line x1="32.00" y1="189.99" x2="35.60" y2="189.99" stroke="#27408b" stroke-width="1.15"/>
<line x1="32.00" y1="206.83" x2="35.60" y2="206.83" stroke="#27408b" stroke-width="1.15"/>
<rect x="32.60" y="197.21" width="2.40" height="2.40" fill="#27408b"/>
<line x1="45.50" y1="186.38" x2="45.50" y2="205.62" stroke="#27408b" stroke-width="1.15"/>
<line x1="43.70" y1="186.38" x2="47.30" y2="186.38" stroke="#27408b" stroke-width="1.15"/>
<line x1="43.70" y1="205.62" x2="47.30" y2="205.62" stroke="#27408b" stroke-width="1.15"/>
<rect x="44.30" y="194.80" width="2.40" height="2.40" fill="#27408b"/>
<line x1="57.20" y1="195.20" x2="57.20" y2="204.82" stroke="#27408b" stroke-width="1.15"/>
<line x1="55.40" y1="195.20" x2="59.00" y2="195.20" stroke="#27408b" stroke-width="1.15"/>
<line x1="55.40" y1="204.82" x2="59.00" y2="204.82" stroke="#27408b" stroke-width="1.15"/>
<rect x="56.00" y="198.81" width="2.40" height="2.40" fill="#27408b"/>
<line x1="68.90" y1="201.61" x2="68.90" y2="209.63" stroke="#27408b" stroke-width="1.15"/>
<line x1="67.10" y1="201.61" x2="70.70" y2="201.61" stroke="#27408b" stroke-width="1.15"/>
<line x1="67.10" y1="209.63" x2="70.70" y2="209.63" stroke="#27408b" stroke-width="1.15"/>
<rect x="67.70" y="204.42" width="2.40" height="2.40" fill="#27408b"/>
<line x1="80.60" y1="201.61" x2="80.60" y2="209.63" stroke="#27408b" stroke-width="1.15"/>
<line x1="78.80" y1="201.61" x2="82.40" y2="201.61" stroke="#27408b" stroke-width="1.15"/>
<line x1="78.80" y1="209.63" x2="82.40" y2="209.63" stroke="#27408b" stroke-width="1.15"/>
<rect x="79.40" y="204.42" width="2.40" height="2.40" fill="#27408b"/>
<line x1="92.30" y1="212.84" x2="92.30" y2="219.26" stroke="#27408b" stroke-width="1.15"/>
<line x1="90.50" y1="212.84" x2="94.10" y2="212.84" stroke="#27408b" stroke-width="1.15"/>
<line x1="90.50" y1="219.26" x2="94.10" y2="219.26" stroke="#27408b" stroke-width="1.15"/>
<rect x="91.10" y="214.85" width="2.40" height="2.40" fill="#27408b"/>
<line x1="104.00" y1="224.87" x2="104.00" y2="234.50" stroke="#27408b" stroke-width="1.15"/>
<line x1="102.20" y1="224.87" x2="105.80" y2="224.87" stroke="#27408b" stroke-width="1.15"/>
<line x1="102.20" y1="234.50" x2="105.80" y2="234.50" stroke="#27408b" stroke-width="1.15"/>
<rect x="102.80" y="228.48" width="2.40" height="2.40" fill="#27408b"/>
<line x1="115.70" y1="235.30" x2="115.70" y2="248.13" stroke="#27408b" stroke-width="1.15"/>
<line x1="113.90" y1="235.30" x2="117.50" y2="235.30" stroke="#27408b" stroke-width="1.15"/>
<line x1="113.90" y1="248.13" x2="117.50" y2="248.13" stroke="#27408b" stroke-width="1.15"/>
<rect x="114.50" y="240.51" width="2.40" height="2.40" fill="#27408b"/>
<line x1="127.40" y1="249.73" x2="127.40" y2="256.15" stroke="#27408b" stroke-width="1.15"/>
<line x1="125.60" y1="249.73" x2="129.20" y2="249.73" stroke="#27408b" stroke-width="1.15"/>
<line x1="125.60" y1="256.15" x2="129.20" y2="256.15" stroke="#27408b" stroke-width="1.15"/>
<rect x="126.20" y="251.74" width="2.40" height="2.40" fill="#27408b"/>
<path d="M32.6 199.2L34.2 199.2L35.8 199.2L37.5 199.2L39.1 199.2L40.7 199.2L42.3 199.2L43.9 199.2L45.5 199.2L47.1 199.2L48.7 199.2L50.3 199.2L51.9 199.2L53.5 199.2L55.2 199.3L56.8 199.3L58.4 199.3L60.0 199.3L61.6 199.3L63.2 199.4L64.8 199.4L66.4 199.5L68.0 199.6L69.6 199.7L71.2 199.9L72.8 200.1L74.5 200.3L76.1 200.7L77.7 201.1L79.3 201.7L80.9 202.4L82.5 203.4L84.1 204.6L85.7 206.1L87.3 208.0L88.9 210.3L90.5 213.2L92.2 216.5L93.8 220.4L95.4 224.8L97.0 229.6L98.6 234.6L100.2 239.7L101.8 244.7L103.4 249.4L105.0 253.8L106.6 257.6L108.2 260.9L109.9 263.7L111.5 266.0L113.1 267.9L114.7 269.3L116.3 270.5L117.9 271.5L119.5 272.2L121.1 272.7L122.7 273.2L124.3 273.5L125.9 273.8L127.5 274.0L129.2 274.1" stroke="#3cb54a" stroke-width="1.8" fill="none" stroke-linejoin="round" stroke-linecap="round"/>
<line x1="33.80" y1="191.99" x2="33.80" y2="204.82" stroke="#3cb54a" stroke-width="1.15"/>
<line x1="32.00" y1="191.99" x2="35.60" y2="191.99" stroke="#3cb54a" stroke-width="1.15"/>
<line x1="32.00" y1="204.82" x2="35.60" y2="204.82" stroke="#3cb54a" stroke-width="1.15"/>
<rect x="32.60" y="197.21" width="2.40" height="2.40" fill="#3cb54a"/>
<line x1="45.50" y1="192.79" x2="45.50" y2="204.02" stroke="#3cb54a" stroke-width="1.15"/>
<line x1="43.70" y1="192.79" x2="47.30" y2="192.79" stroke="#3cb54a" stroke-width="1.15"/>
<line x1="43.70" y1="204.02" x2="47.30" y2="204.02" stroke="#3cb54a" stroke-width="1.15"/>
<rect x="44.30" y="197.21" width="2.40" height="2.40" fill="#3cb54a"/>
<line x1="57.20" y1="195.20" x2="57.20" y2="203.22" stroke="#3cb54a" stroke-width="1.15"/>
<line x1="55.40" y1="195.20" x2="59.00" y2="195.20" stroke="#3cb54a" stroke-width="1.15"/>
<line x1="55.40" y1="203.22" x2="59.00" y2="203.22" stroke="#3cb54a" stroke-width="1.15"/>
<rect x="56.00" y="198.01" width="2.40" height="2.40" fill="#3cb54a"/>
<line x1="68.90" y1="198.41" x2="68.90" y2="204.82" stroke="#3cb54a" stroke-width="1.15"/>
<line x1="67.10" y1="198.41" x2="70.70" y2="198.41" stroke="#3cb54a" stroke-width="1.15"/>
<line x1="67.10" y1="204.82" x2="70.70" y2="204.82" stroke="#3cb54a" stroke-width="1.15"/>
<rect x="67.70" y="200.41" width="2.40" height="2.40" fill="#3cb54a"/>
<line x1="80.60" y1="200.01" x2="80.60" y2="204.82" stroke="#3cb54a" stroke-width="1.15"/>
<line x1="78.80" y1="200.01" x2="82.40" y2="200.01" stroke="#3cb54a" stroke-width="1.15"/>
<line x1="78.80" y1="204.82" x2="82.40" y2="204.82" stroke="#3cb54a" stroke-width="1.15"/>
<rect x="79.40" y="201.22" width="2.40" height="2.40" fill="#3cb54a"/>
<line x1="92.30" y1="213.64" x2="92.30" y2="220.06" stroke="#3cb54a" stroke-width="1.15"/>
<line x1="90.50" y1="213.64" x2="94.10" y2="213.64" stroke="#3cb54a" stroke-width="1.15"/>
<line x1="90.50" y1="220.06" x2="94.10" y2="220.06" stroke="#3cb54a" stroke-width="1.15"/>
<rect x="91.10" y="215.65" width="2.40" height="2.40" fill="#3cb54a"/>
<line x1="104.00" y1="246.53" x2="104.00" y2="249.73" stroke="#3cb54a" stroke-width="1.15"/>
<line x1="102.20" y1="246.53" x2="105.80" y2="246.53" stroke="#3cb54a" stroke-width="1.15"/>
<line x1="102.20" y1="249.73" x2="105.80" y2="249.73" stroke="#3cb54a" stroke-width="1.15"/>
<rect x="102.80" y="246.93" width="2.40" height="2.40" fill="#3cb54a"/>
<line x1="115.70" y1="266.98" x2="115.70" y2="269.38" stroke="#3cb54a" stroke-width="1.15"/>
<line x1="113.90" y1="266.98" x2="117.50" y2="266.98" stroke="#3cb54a" stroke-width="1.15"/>
<line x1="113.90" y1="269.38" x2="117.50" y2="269.38" stroke="#3cb54a" stroke-width="1.15"/>
<rect x="114.50" y="266.98" width="2.40" height="2.40" fill="#3cb54a"/>
<rect x="126.20" y="271.79" width="2.40" height="2.40" fill="#3cb54a"/>
<text x="76.30" y="175.70" font-size="7.5" text-anchor="middle" font-weight="bold">NCI-H446</text>
<text x="83.50" y="291.50" font-size="7.4" text-anchor="middle" font-weight="bold">VE822 (nmol/L)</text>
<text transform="translate(16.18 229.70) rotate(-90)" font-size="5.5" text-anchor="middle" font-weight="bold">Cell viability (%)</text>
<text x="104.00" y="222.10" font-size="9" text-anchor="middle" font-weight="bold" fill="#5a6478" style="stroke:none">*</text>
<text x="115.70" y="232.60" font-size="9" text-anchor="middle" font-weight="bold" fill="#5a6478" style="stroke:none">*</text>
<text x="127.40" y="247.30" font-size="9" text-anchor="middle" font-weight="bold" fill="#5a6478" style="stroke:none">*</text>
<line x1="113.80" y1="188.30" x2="122.30" y2="188.30" stroke="#3cb54a" stroke-width="1.5"/>
<rect x="116.90" y="187.20" width="2.20" height="2.20" fill="#3cb54a"/>
<text x="125.30" y="190.60" font-size="6.3" fill="#444">siCTRL</text>
<line x1="113.80" y1="197.30" x2="122.30" y2="197.30" stroke="#27408b" stroke-width="1.5"/>
<rect x="116.90" y="196.20" width="2.20" height="2.20" fill="#27408b"/>
<text x="125.30" y="199.60" font-size="6.3" fill="#444">siMYC</text>
<line x1="184.00" y1="181.60" x2="184.00" y2="277.05" stroke="#000" stroke-width="1.5"/>
<line x1="183.25" y1="276.30" x2="284.50" y2="276.30" stroke="#000" stroke-width="1.5"/>
<line x1="181.50" y1="276.30" x2="184.00" y2="276.30" stroke="#000" stroke-width="0.9"/>
<text x="180.80" y="277.80" font-size="4.2" text-anchor="end" font-weight="bold">0</text>
<line x1="181.50" y1="232.00" x2="184.00" y2="232.00" stroke="#000" stroke-width="0.9"/>
<text x="180.80" y="233.50" font-size="4.2" text-anchor="end" font-weight="bold">50</text>
<line x1="181.50" y1="187.70" x2="184.00" y2="187.70" stroke="#000" stroke-width="0.9"/>
<text x="180.80" y="189.20" font-size="4.2" text-anchor="end" font-weight="bold">100</text>
<line x1="191.50" y1="276.30" x2="191.50" y2="278.80" stroke="#000" stroke-width="0.9"/>
<text x="191.50" y="282.90" font-size="3.8" text-anchor="middle" font-weight="bold">10<tspan font-size="2.6" dy="-1.5">1</tspan></text>
<line x1="230.60" y1="276.30" x2="230.60" y2="278.80" stroke="#000" stroke-width="0.9"/>
<text x="230.60" y="282.90" font-size="3.8" text-anchor="middle" font-weight="bold">10<tspan font-size="2.6" dy="-1.5">1</tspan></text>
<line x1="270.00" y1="276.30" x2="270.00" y2="278.80" stroke="#000" stroke-width="0.9"/>
<text x="270.00" y="282.90" font-size="3.8" text-anchor="middle" font-weight="bold">10<tspan font-size="2.6" dy="-1.5">1</tspan></text>
<path d="M186.3 188.6L187.9 188.6L189.6 188.6L191.2 188.7L192.8 188.7L194.4 188.7L196.0 188.7L197.7 188.7L199.3 188.7L200.9 188.8L202.5 188.8L204.1 188.9L205.8 188.9L207.4 189.0L209.0 189.1L210.6 189.2L212.2 189.3L213.9 189.4L215.5 189.6L217.1 189.8L218.7 190.0L220.3 190.3L222.0 190.6L223.6 191.0L225.2 191.4L226.8 192.0L228.4 192.6L230.1 193.3L231.7 194.2L233.3 195.2L234.9 196.3L236.5 197.7L238.2 199.2L239.8 200.9L241.4 202.8L243.0 205.0L244.6 207.3L246.3 209.9L247.9 212.6L249.5 215.5L251.1 218.4L252.7 221.5L254.4 224.5L256.0 227.5L257.6 230.4L259.2 233.2L260.8 235.9L262.5 238.3L264.1 240.6L265.7 242.6L267.3 244.5L268.9 246.1L270.5 247.5L272.2 248.7L273.8 249.8L275.4 250.8L277.0 251.6L278.6 252.2L280.3 252.8L281.9 253.3L283.5 253.7" stroke="#27408b" stroke-width="1.8" fill="none" stroke-linejoin="round" stroke-linecap="round"/>
<line x1="187.50" y1="187.70" x2="187.50" y2="191.24" stroke="#27408b" stroke-width="1.15"/>
<line x1="185.70" y1="187.70" x2="189.30" y2="187.70" stroke="#27408b" stroke-width="1.15"/>
<line x1="185.70" y1="191.24" x2="189.30" y2="191.24" stroke="#27408b" stroke-width="1.15"/>
<rect x="186.30" y="188.27" width="2.40" height="2.40" fill="#27408b"/>
<line x1="199.28" y1="187.70" x2="199.28" y2="191.24" stroke="#27408b" stroke-width="1.15"/>
<line x1="197.48" y1="187.70" x2="201.08" y2="187.70" stroke="#27408b" stroke-width="1.15"/>
<line x1="197.48" y1="191.24" x2="201.08" y2="191.24" stroke="#27408b" stroke-width="1.15"/>
<rect x="198.08" y="188.27" width="2.40" height="2.40" fill="#27408b"/>
<line x1="211.06" y1="183.27" x2="211.06" y2="192.13" stroke="#27408b" stroke-width="1.15"/>
<line x1="209.26" y1="183.27" x2="212.86" y2="183.27" stroke="#27408b" stroke-width="1.15"/>
<line x1="209.26" y1="192.13" x2="212.86" y2="192.13" stroke="#27408b" stroke-width="1.15"/>
<rect x="209.86" y="186.50" width="2.40" height="2.40" fill="#27408b"/>
<line x1="222.84" y1="186.81" x2="222.84" y2="192.13" stroke="#27408b" stroke-width="1.15"/>
<line x1="221.04" y1="186.81" x2="224.64" y2="186.81" stroke="#27408b" stroke-width="1.15"/>
<line x1="221.04" y1="192.13" x2="224.64" y2="192.13" stroke="#27408b" stroke-width="1.15"/>
<rect x="221.64" y="188.27" width="2.40" height="2.40" fill="#27408b"/>
<line x1="234.62" y1="194.79" x2="234.62" y2="198.33" stroke="#27408b" stroke-width="1.15"/>
<line x1="232.82" y1="194.79" x2="236.42" y2="194.79" stroke="#27408b" stroke-width="1.15"/>
<line x1="232.82" y1="198.33" x2="236.42" y2="198.33" stroke="#27408b" stroke-width="1.15"/>
<rect x="233.42" y="195.36" width="2.40" height="2.40" fill="#27408b"/>
<line x1="246.40" y1="208.96" x2="246.40" y2="212.51" stroke="#27408b" stroke-width="1.15"/>
<line x1="244.60" y1="208.96" x2="248.20" y2="208.96" stroke="#27408b" stroke-width="1.15"/>
<line x1="244.60" y1="212.51" x2="248.20" y2="212.51" stroke="#27408b" stroke-width="1.15"/>
<rect x="245.20" y="209.54" width="2.40" height="2.40" fill="#27408b"/>
<line x1="258.18" y1="229.34" x2="258.18" y2="234.66" stroke="#27408b" stroke-width="1.15"/>
<line x1="256.38" y1="229.34" x2="259.98" y2="229.34" stroke="#27408b" stroke-width="1.15"/>
<line x1="256.38" y1="234.66" x2="259.98" y2="234.66" stroke="#27408b" stroke-width="1.15"/>
<rect x="256.98" y="230.80" width="2.40" height="2.40" fill="#27408b"/>
<line x1="269.96" y1="239.09" x2="269.96" y2="246.18" stroke="#27408b" stroke-width="1.15"/>
<line x1="268.16" y1="239.09" x2="271.76" y2="239.09" stroke="#27408b" stroke-width="1.15"/>
<line x1="268.16" y1="246.18" x2="271.76" y2="246.18" stroke="#27408b" stroke-width="1.15"/>
<rect x="268.76" y="241.43" width="2.40" height="2.40" fill="#27408b"/>
<line x1="281.74" y1="250.61" x2="281.74" y2="255.92" stroke="#27408b" stroke-width="1.15"/>
<line x1="279.94" y1="250.61" x2="283.54" y2="250.61" stroke="#27408b" stroke-width="1.15"/>
<line x1="279.94" y1="255.92" x2="283.54" y2="255.92" stroke="#27408b" stroke-width="1.15"/>
<rect x="280.54" y="252.06" width="2.40" height="2.40" fill="#27408b"/>
<path d="M186.3 188.6L187.9 188.6L189.6 188.6L191.2 188.6L192.8 188.6L194.4 188.6L196.0 188.6L197.7 188.6L199.3 188.6L200.9 188.6L202.5 188.6L204.1 188.7L205.8 188.7L207.4 188.7L209.0 188.7L210.6 188.8L212.2 188.8L213.9 188.9L215.5 188.9L217.1 189.0L218.7 189.2L220.3 189.3L222.0 189.5L223.6 189.8L225.2 190.1L226.8 190.5L228.4 191.0L230.1 191.7L231.7 192.5L233.3 193.4L234.9 194.7L236.5 196.2L238.2 198.0L239.8 200.2L241.4 202.7L243.0 205.7L244.6 209.1L246.3 212.8L247.9 216.9L249.5 221.2L251.1 225.6L252.7 230.0L254.4 234.2L256.0 238.2L257.6 241.8L259.2 245.1L260.8 247.9L262.5 250.4L264.1 252.4L265.7 254.2L267.3 255.6L268.9 256.7L270.5 257.6L272.2 258.4L273.8 259.0L275.4 259.5L277.0 259.8L278.6 260.1L280.3 260.4L281.9 260.6L283.5 260.7" stroke="#3cb54a" stroke-width="1.8" fill="none" stroke-linejoin="round" stroke-linecap="round"/>
<line x1="187.50" y1="186.81" x2="187.50" y2="190.36" stroke="#3cb54a" stroke-width="1.15"/>
<line x1="185.70" y1="186.81" x2="189.30" y2="186.81" stroke="#3cb54a" stroke-width="1.15"/>
<line x1="185.70" y1="190.36" x2="189.30" y2="190.36" stroke="#3cb54a" stroke-width="1.15"/>
<rect x="186.30" y="187.39" width="2.40" height="2.40" fill="#3cb54a"/>
<line x1="199.28" y1="186.81" x2="199.28" y2="190.36" stroke="#3cb54a" stroke-width="1.15"/>
<line x1="197.48" y1="186.81" x2="201.08" y2="186.81" stroke="#3cb54a" stroke-width="1.15"/>
<line x1="197.48" y1="190.36" x2="201.08" y2="190.36" stroke="#3cb54a" stroke-width="1.15"/>
<rect x="198.08" y="187.39" width="2.40" height="2.40" fill="#3cb54a"/>
<line x1="211.06" y1="186.81" x2="211.06" y2="190.36" stroke="#3cb54a" stroke-width="1.15"/>
<line x1="209.26" y1="186.81" x2="212.86" y2="186.81" stroke="#3cb54a" stroke-width="1.15"/>
<line x1="209.26" y1="190.36" x2="212.86" y2="190.36" stroke="#3cb54a" stroke-width="1.15"/>
<rect x="209.86" y="187.39" width="2.40" height="2.40" fill="#3cb54a"/>
<line x1="222.84" y1="187.70" x2="222.84" y2="191.24" stroke="#3cb54a" stroke-width="1.15"/>
<line x1="221.04" y1="187.70" x2="224.64" y2="187.70" stroke="#3cb54a" stroke-width="1.15"/>
<line x1="221.04" y1="191.24" x2="224.64" y2="191.24" stroke="#3cb54a" stroke-width="1.15"/>
<rect x="221.64" y="188.27" width="2.40" height="2.40" fill="#3cb54a"/>
<line x1="234.62" y1="195.67" x2="234.62" y2="199.22" stroke="#3cb54a" stroke-width="1.15"/>
<line x1="232.82" y1="195.67" x2="236.42" y2="195.67" stroke="#3cb54a" stroke-width="1.15"/>
<line x1="232.82" y1="199.22" x2="236.42" y2="199.22" stroke="#3cb54a" stroke-width="1.15"/>
<rect x="233.42" y="196.25" width="2.40" height="2.40" fill="#3cb54a"/>
<line x1="246.40" y1="214.28" x2="246.40" y2="217.82" stroke="#3cb54a" stroke-width="1.15"/>
<line x1="244.60" y1="214.28" x2="248.20" y2="214.28" stroke="#3cb54a" stroke-width="1.15"/>
<line x1="244.60" y1="217.82" x2="248.20" y2="217.82" stroke="#3cb54a" stroke-width="1.15"/>
<rect x="245.20" y="214.85" width="2.40" height="2.40" fill="#3cb54a"/>
<line x1="258.18" y1="241.30" x2="258.18" y2="243.96" stroke="#3cb54a" stroke-width="1.15"/>
<line x1="256.38" y1="241.30" x2="259.98" y2="241.30" stroke="#3cb54a" stroke-width="1.15"/>
<line x1="256.38" y1="243.96" x2="259.98" y2="243.96" stroke="#3cb54a" stroke-width="1.15"/>
<rect x="256.98" y="241.43" width="2.40" height="2.40" fill="#3cb54a"/>
<line x1="269.96" y1="254.15" x2="269.96" y2="259.47" stroke="#3cb54a" stroke-width="1.15"/>
<line x1="268.16" y1="254.15" x2="271.76" y2="254.15" stroke="#3cb54a" stroke-width="1.15"/>
<line x1="268.16" y1="259.47" x2="271.76" y2="259.47" stroke="#3cb54a" stroke-width="1.15"/>
<rect x="268.76" y="255.61" width="2.40" height="2.40" fill="#3cb54a"/>
<line x1="281.74" y1="257.69" x2="281.74" y2="261.24" stroke="#3cb54a" stroke-width="1.15"/>
<line x1="279.94" y1="257.69" x2="283.54" y2="257.69" stroke="#3cb54a" stroke-width="1.15"/>
<line x1="279.94" y1="261.24" x2="283.54" y2="261.24" stroke="#3cb54a" stroke-width="1.15"/>
<rect x="280.54" y="258.27" width="2.40" height="2.40" fill="#3cb54a"/>
<text x="232.50" y="176.20" font-size="7.5" text-anchor="middle" font-weight="bold">NCI-H187</text>
<text x="239.00" y="291.50" font-size="7.4" text-anchor="middle" font-weight="bold">VE822 (nmol/L)</text>
<text transform="translate(170.78 229.70) rotate(-90)" font-size="5.5" text-anchor="middle" font-weight="bold">Cell viability (%)</text>
<text x="258.00" y="228.90" font-size="9" text-anchor="middle" font-weight="bold" fill="#7d6e55" style="stroke:none">*</text>
<text x="270.00" y="237.50" font-size="9" text-anchor="middle" font-weight="bold" fill="#7d6e55" style="stroke:none">*</text>
<text x="281.70" y="248.00" font-size="9" text-anchor="middle" font-weight="bold" fill="#7d6e55" style="stroke:none">*</text>
<line x1="276.40" y1="188.30" x2="284.90" y2="188.30" stroke="#3cb54a" stroke-width="1.5"/>
<rect x="279.50" y="187.20" width="2.20" height="2.20" fill="#3cb54a"/>
<text x="287.90" y="190.60" font-size="6.3" fill="#444">siCTRL</text>
<line x1="276.40" y1="197.30" x2="284.90" y2="197.30" stroke="#27408b" stroke-width="1.5"/>
<rect x="279.50" y="196.20" width="2.20" height="2.20" fill="#27408b"/>
<text x="287.90" y="199.60" font-size="6.3" fill="#444">siMYC</text>
<line x1="369.30" y1="182.70" x2="369.30" y2="264.75" stroke="#000" stroke-width="1.5"/>
<line x1="368.55" y1="264.00" x2="483.50" y2="264.00" stroke="#000" stroke-width="1.5"/>
<line x1="398.00" y1="264.00" x2="398.00" y2="266.60" stroke="#000" stroke-width="1.1"/>
<line x1="462.60" y1="264.00" x2="462.60" y2="266.60" stroke="#000" stroke-width="1.1"/>
<line x1="366.00" y1="264.00" x2="369.30" y2="264.00" stroke="#000" stroke-width="1.0"/>
<text x="365.20" y="266.20" font-size="6.2" text-anchor="end" font-weight="bold">0.0</text>
<line x1="366.00" y1="227.45" x2="369.30" y2="227.45" stroke="#000" stroke-width="1.0"/>
<text x="365.20" y="229.65" font-size="6.2" text-anchor="end" font-weight="bold">0.5</text>
<line x1="366.00" y1="190.90" x2="369.30" y2="190.90" stroke="#000" stroke-width="1.0"/>
<text x="365.20" y="193.10" font-size="6.2" text-anchor="end" font-weight="bold">1.0</text>
<line x1="386.25" y1="190.90" x2="386.25" y2="186.15" stroke="#000" stroke-width="1.2"/>
<line x1="380.95" y1="186.15" x2="391.55" y2="186.15" stroke="#000" stroke-width="1.2"/>
<rect x="378.20" y="190.90" width="16.10" height="73.10" fill="#000"/>
<line x1="410.35" y1="246.82" x2="410.35" y2="239.51" stroke="#2a2a30" stroke-width="1.2"/>
<line x1="405.05" y1="239.51" x2="415.65" y2="239.51" stroke="#2a2a30" stroke-width="1.2"/>
<rect x="402.30" y="246.82" width="16.10" height="17.18" fill="#9c9aa6"/>
<line x1="450.55" y1="190.90" x2="450.55" y2="186.15" stroke="#000" stroke-width="1.2"/>
<line x1="445.25" y1="186.15" x2="455.85" y2="186.15" stroke="#000" stroke-width="1.2"/>
<rect x="442.50" y="190.90" width="16.10" height="73.10" fill="#000"/>
<line x1="474.55" y1="221.60" x2="474.55" y2="219.26" stroke="#2a2a30" stroke-width="1.2"/>
<line x1="469.25" y1="219.26" x2="479.85" y2="219.26" stroke="#2a2a30" stroke-width="1.2"/>
<rect x="466.50" y="221.60" width="16.10" height="42.40" fill="#9c9aa6"/>
<text x="398.20" y="275.10" font-size="7.7" text-anchor="middle" font-weight="bold">NCI-H446</text>
<text x="462.70" y="275.10" font-size="7.7" text-anchor="middle" font-weight="bold">NCI-H187</text>
<text transform="translate(344.09 223.40) rotate(-90)" font-size="7.75" text-anchor="middle" font-weight="bold">Relative MYC</text>
<text transform="translate(353.83 223.40) rotate(-90)" font-size="7.85" text-anchor="middle" font-weight="bold">mRNA levels (a.u.)</text>
<rect x="479.80" y="186.60" width="10.60" height="4.40" fill="#000"/>
<rect x="479.80" y="198.00" width="10.60" height="4.40" fill="#9c9aa6"/>
<text x="493.70" y="191.20" font-size="6.6">siControl</text>
<text x="493.70" y="202.60" font-size="6.6">siMYC</text>
<line x1="26.60" y1="332.30" x2="29.60" y2="332.30" stroke="#111" stroke-width="0.9"/>
<text transform="translate(23.98 333.10) rotate(-90)" font-size="6.6" text-anchor="middle" fill="#222">−5.0</text>
<line x1="26.60" y1="351.30" x2="29.60" y2="351.30" stroke="#111" stroke-width="0.9"/>
<text transform="translate(23.98 352.10) rotate(-90)" font-size="6.6" text-anchor="middle" fill="#222">−5.5</text>
<line x1="26.60" y1="370.30" x2="29.60" y2="370.30" stroke="#111" stroke-width="0.9"/>
<text transform="translate(23.98 371.10) rotate(-90)" font-size="6.6" text-anchor="middle" fill="#222">−6.0</text>
<line x1="26.60" y1="389.30" x2="29.60" y2="389.30" stroke="#111" stroke-width="0.9"/>
<text transform="translate(23.98 390.10) rotate(-90)" font-size="6.6" text-anchor="middle" fill="#222">−6.5</text>
<line x1="26.60" y1="408.30" x2="29.60" y2="408.30" stroke="#111" stroke-width="0.9"/>
<text transform="translate(23.98 409.10) rotate(-90)" font-size="6.6" text-anchor="middle" fill="#222">−7.0</text>
<path d="M57.2 409.4h0M57.2 398.8h0M57.2 389.3h0M59.1 387.4h0M57.2 385.5h0M57.2 381.7h0M59.1 379.8h0M57.2 377.9h0M59.1 377.1h0M55.4 376.0h0M57.2 374.1h0M57.2 370.3h0M59.1 370.3h0M55.4 368.4h0M57.2 367.3h0M57.2 362.7h0M59.1 360.8h0M57.2 355.9h0M59.1 355.1h0M57.2 351.3h0M59.1 349.4h0M57.2 345.6h0M57.2 342.9h0M57.2 339.9h0M57.2 332.3h0M59.1 332.3h0M55.4 332.3h0M60.9 332.3h0M53.5 332.3h0M104.1 407.2h0M104.1 404.5h0M104.1 400.7h0M104.1 396.9h0M105.9 395.0h0M104.1 393.1h0M102.2 393.1h0M105.9 392.3h0M107.8 391.2h0M100.4 391.2h0M104.1 390.1h0M105.9 389.3h0M102.2 389.3h0M104.1 387.4h0M105.9 385.5h0M102.2 385.5h0M104.1 384.7h0M107.8 383.6h0M105.9 382.8h0M104.1 381.7h0M102.2 381.7h0M107.8 380.9h0M105.9 379.8h0M104.1 377.9h0M102.2 377.9h0M105.9 376.0h0M104.1 374.1h0M105.9 372.2h0M104.1 370.3h0M105.9 368.4h0M104.1 366.5h0M104.1 363.5h0M105.9 362.7h0M104.1 358.9h0M104.1 349.4h0M104.1 332.3h0M105.9 332.3h0" stroke="#26418f" stroke-width="1.9" stroke-linecap="round" fill="none"/>
<line x1="39.10" y1="345.50" x2="75.40" y2="345.50" stroke="#2c2c2c" stroke-width="1.0"/>
<line x1="39.10" y1="377.50" x2="75.40" y2="377.50" stroke="#2c2c2c" stroke-width="1.0"/>
<line x1="39.10" y1="368.00" x2="75.40" y2="368.00" stroke="#000" stroke-width="2.1"/>
<line x1="85.90" y1="369.50" x2="122.20" y2="369.50" stroke="#2c2c2c" stroke-width="1.0"/>
<line x1="85.90" y1="390.50" x2="122.20" y2="390.50" stroke="#2c2c2c" stroke-width="1.0"/>
<line x1="85.90" y1="381.00" x2="122.20" y2="381.00" stroke="#000" stroke-width="2.1"/>
<rect x="29.60" y="328.40" width="101.90" height="84.90" fill="none" stroke="#111" stroke-width="1.0"/>
<text x="79.60" y="319.00" font-size="7.35" text-anchor="middle" font-weight="bold">AZD7762</text>
<text x="52.50" y="420.90" font-size="6.6" text-anchor="middle" fill="#222">Both low</text>
<text x="103.70" y="420.90" font-size="6.55" text-anchor="middle" fill="#222">MYC or MYCL1 high</text>
<line x1="153.80" y1="332.20" x2="156.80" y2="332.20" stroke="#111" stroke-width="0.9"/>
<text transform="translate(151.18 333.00) rotate(-90)" font-size="6.6" text-anchor="middle" fill="#222">−5.0</text>
<line x1="153.80" y1="357.80" x2="156.80" y2="357.80" stroke="#111" stroke-width="0.9"/>
<text transform="translate(151.18 358.60) rotate(-90)" font-size="6.6" text-anchor="middle" fill="#222">−5.4</text>
<line x1="153.80" y1="383.40" x2="156.80" y2="383.40" stroke="#111" stroke-width="0.9"/>
<text transform="translate(151.18 384.20) rotate(-90)" font-size="6.6" text-anchor="middle" fill="#222">−5.8</text>
<line x1="153.80" y1="409.00" x2="156.80" y2="409.00" stroke="#111" stroke-width="0.9"/>
<text transform="translate(151.18 409.80) rotate(-90)" font-size="6.6" text-anchor="middle" fill="#222">−6.2</text>
<line x1="153.80" y1="345.00" x2="156.80" y2="345.00" stroke="#111" stroke-width="0.9"/>
<line x1="153.80" y1="370.60" x2="156.80" y2="370.60" stroke="#111" stroke-width="0.9"/>
<line x1="153.80" y1="396.20" x2="156.80" y2="396.20" stroke="#111" stroke-width="0.9"/>
<path d="M184.4 405.8h0M186.2 404.5h0M184.4 401.3h0M184.4 382.1h0M186.2 380.2h0M184.4 378.3h0M186.2 377.0h0M184.4 373.8h0M184.4 370.6h0M184.4 364.2h0M186.2 362.9h0M182.6 362.3h0M184.4 361.0h0M186.2 359.1h0M184.4 348.2h0M186.2 346.9h0M184.4 341.8h0M184.4 338.6h0M184.4 332.2h0M186.2 332.2h0M182.6 332.2h0M188.1 332.2h0M180.7 332.2h0M190.0 332.2h0M178.8 332.2h0M191.8 332.2h0M177.0 332.2h0M193.7 332.2h0M175.2 332.2h0M195.5 332.2h0M231.2 409.0h0M233.1 407.7h0M231.2 405.8h0M233.1 404.5h0M231.2 402.6h0M231.2 399.4h0M231.2 396.2h0M231.2 389.8h0M231.2 386.6h0M231.2 383.4h0M233.1 383.4h0M229.4 382.1h0M234.9 382.1h0M231.2 377.0h0M233.1 377.0h0M229.4 375.7h0M231.2 372.5h0M233.1 371.9h0M229.4 370.6h0M234.9 370.6h0M231.2 369.3h0M233.1 368.0h0M229.4 367.4h0M231.2 357.8h0M233.1 356.5h0M229.4 355.9h0M231.2 349.5h0M233.1 348.2h0M231.2 346.3h0M233.1 345.0h0M231.2 343.7h0M233.1 341.8h0M231.2 340.5h0M233.1 338.6h0M231.2 332.2h0M233.1 332.2h0M229.4 332.2h0M234.9 332.2h0M227.5 332.2h0" stroke="#26418f" stroke-width="1.9" stroke-linecap="round" fill="none"/>
<line x1="166.30" y1="332.50" x2="202.60" y2="332.50" stroke="#2c2c2c" stroke-width="1.0"/>
<line x1="166.30" y1="373.50" x2="202.60" y2="373.50" stroke="#2c2c2c" stroke-width="1.0"/>
<line x1="166.30" y1="349.00" x2="202.60" y2="349.00" stroke="#000" stroke-width="2.1"/>
<line x1="213.00" y1="346.50" x2="249.30" y2="346.50" stroke="#2c2c2c" stroke-width="1.0"/>
<line x1="213.00" y1="382.50" x2="249.30" y2="382.50" stroke="#2c2c2c" stroke-width="1.0"/>
<line x1="213.00" y1="370.00" x2="249.30" y2="370.00" stroke="#000" stroke-width="2.1"/>
<rect x="156.80" y="328.40" width="101.80" height="84.90" fill="none" stroke="#111" stroke-width="1.0"/>
<text x="208.00" y="319.00" font-size="7.35" text-anchor="middle" font-weight="bold">LY−2603618</text>
<text x="179.30" y="420.90" font-size="6.6" text-anchor="middle" fill="#222">Both low</text>
<text x="230.40" y="420.90" font-size="6.55" text-anchor="middle" fill="#222">MYC or MYCL1 high</text>
<line x1="282.50" y1="332.20" x2="285.50" y2="332.20" stroke="#111" stroke-width="0.9"/>
<text transform="translate(279.88 333.00) rotate(-90)" font-size="6.6" text-anchor="middle" fill="#222">−5</text>
<line x1="282.50" y1="352.55" x2="285.50" y2="352.55" stroke="#111" stroke-width="0.9"/>
<text transform="translate(279.88 353.35) rotate(-90)" font-size="6.6" text-anchor="middle" fill="#222">−6</text>
<line x1="282.50" y1="372.90" x2="285.50" y2="372.90" stroke="#111" stroke-width="0.9"/>
<text transform="translate(279.88 373.70) rotate(-90)" font-size="6.6" text-anchor="middle" fill="#222">−7</text>
<line x1="282.50" y1="393.25" x2="285.50" y2="393.25" stroke="#111" stroke-width="0.9"/>
<text transform="translate(279.88 394.05) rotate(-90)" font-size="6.6" text-anchor="middle" fill="#222">−8</text>
<line x1="282.50" y1="413.60" x2="285.50" y2="413.60" stroke="#111" stroke-width="0.9"/>
<text transform="translate(279.88 414.40) rotate(-90)" font-size="6.6" text-anchor="middle" fill="#222">−9</text>
<path d="M313.1 409.5h0M313.1 404.4h0M315.0 403.4h0M313.1 402.4h0M313.1 399.4h0M313.1 397.3h0M313.1 395.3h0M315.0 394.3h0M313.1 393.2h0M315.0 392.2h0M313.1 391.2h0M313.1 387.1h0M315.0 386.1h0M313.1 385.1h0M311.2 385.1h0M315.0 384.1h0M316.8 384.1h0M313.1 383.1h0M315.0 382.1h0M313.1 381.0h0M315.0 380.0h0M313.1 377.0h0M313.1 374.9h0M313.1 363.7h0M313.1 354.6h0M313.1 346.4h0M313.1 332.2h0M315.0 332.2h0M311.2 332.2h0M316.8 332.2h0M309.4 332.2h0M318.7 332.2h0M307.6 332.2h0M320.5 332.2h0M359.6 409.5h0M359.6 405.5h0M361.5 404.4h0M359.6 403.4h0M361.5 402.4h0M359.6 401.4h0M357.8 401.4h0M361.5 400.4h0M359.6 399.4h0M357.8 399.4h0M361.5 398.3h0M359.6 397.3h0M357.8 397.3h0M361.5 396.3h0M363.3 395.7h0M359.6 395.3h0M357.8 395.3h0M355.9 394.9h0M361.5 394.3h0M365.2 394.3h0M363.3 393.7h0M359.6 393.2h0M357.8 393.2h0M361.5 392.2h0M359.6 391.2h0M359.6 389.2h0M361.5 388.2h0M359.6 387.1h0M359.6 385.1h0M361.5 384.1h0M359.6 381.0h0M359.6 373.9h0M359.6 371.9h0M359.6 361.7h0M359.6 332.2h0M361.5 332.2h0M357.8 332.2h0" stroke="#26418f" stroke-width="1.9" stroke-linecap="round" fill="none"/>
<line x1="295.00" y1="346.50" x2="331.30" y2="346.50" stroke="#2c2c2c" stroke-width="1.0"/>
<line x1="295.00" y1="393.50" x2="331.30" y2="393.50" stroke="#2c2c2c" stroke-width="1.0"/>
<line x1="295.00" y1="383.00" x2="331.30" y2="383.00" stroke="#000" stroke-width="2.1"/>
<line x1="341.40" y1="384.50" x2="377.70" y2="384.50" stroke="#2c2c2c" stroke-width="1.0"/>
<line x1="341.40" y1="399.50" x2="377.70" y2="399.50" stroke="#2c2c2c" stroke-width="1.0"/>
<line x1="341.40" y1="394.00" x2="377.70" y2="394.00" stroke="#000" stroke-width="2.1"/>
<rect x="285.50" y="328.40" width="101.50" height="84.90" fill="none" stroke="#111" stroke-width="1.0"/>
<text x="342.10" y="319.00" font-size="7.35" text-anchor="middle" font-weight="bold">LY−2606368</text>
<text x="308.50" y="420.90" font-size="6.6" text-anchor="middle" fill="#222">Both low</text>
<text x="359.60" y="420.90" font-size="6.55" text-anchor="middle" fill="#222">MYC or MYCL1 high</text>
<line x1="413.30" y1="332.20" x2="416.30" y2="332.20" stroke="#111" stroke-width="0.9"/>
<text transform="translate(410.68 333.00) rotate(-90)" font-size="6.6" text-anchor="middle" fill="#222">−5.0</text>
<line x1="413.30" y1="347.90" x2="416.30" y2="347.90" stroke="#111" stroke-width="0.9"/>
<text transform="translate(410.68 348.70) rotate(-90)" font-size="6.6" text-anchor="middle" fill="#222">−5.5</text>
<line x1="413.30" y1="363.60" x2="416.30" y2="363.60" stroke="#111" stroke-width="0.9"/>
<text transform="translate(410.68 364.40) rotate(-90)" font-size="6.6" text-anchor="middle" fill="#222">−6.0</text>
<line x1="413.30" y1="379.30" x2="416.30" y2="379.30" stroke="#111" stroke-width="0.9"/>
<text transform="translate(410.68 380.10) rotate(-90)" font-size="6.6" text-anchor="middle" fill="#222">−6.5</text>
<line x1="413.30" y1="395.00" x2="416.30" y2="395.00" stroke="#111" stroke-width="0.9"/>
<text transform="translate(410.68 395.80) rotate(-90)" font-size="6.6" text-anchor="middle" fill="#222">−7.0</text>
<line x1="413.30" y1="410.70" x2="416.30" y2="410.70" stroke="#111" stroke-width="0.9"/>
<text transform="translate(410.68 411.50) rotate(-90)" font-size="6.6" text-anchor="middle" fill="#222">−7.5</text>
<path d="M443.9 387.1h0M445.8 386.2h0M442.1 385.6h0M443.9 385.0h0M445.8 384.0h0M443.9 382.4h0M443.9 377.7h0M443.9 373.6h0M445.8 373.0h0M442.1 373.0h0M447.6 372.4h0M443.9 371.4h0M443.9 368.3h0M445.8 366.7h0M443.9 363.6h0M445.8 362.0h0M443.9 360.5h0M445.8 358.9h0M443.9 357.9h0M442.1 357.3h0M445.8 356.7h0M443.9 341.0h0M445.8 340.1h0M443.9 332.2h0M445.8 332.2h0M442.1 332.2h0M447.6 332.2h0M440.2 332.2h0M449.5 332.2h0M438.4 332.2h0M451.3 332.2h0M436.5 332.2h0M453.2 332.2h0M434.7 332.2h0M490.1 410.1h0M490.1 401.9h0M490.1 390.3h0M492.0 388.7h0M490.1 387.1h0M488.2 387.1h0M492.0 386.2h0M493.8 385.6h0M486.4 385.6h0M490.1 385.0h0M492.0 384.0h0M488.2 384.0h0M493.8 383.1h0M490.1 382.4h0M486.4 382.4h0M492.0 380.9h0M490.1 379.3h0M492.0 378.7h0M488.2 377.7h0M490.1 376.8h0M492.0 376.2h0M493.8 376.2h0M490.1 374.6h0M492.0 373.0h0M490.1 371.4h0M492.0 370.5h0M488.2 369.9h0M490.1 366.7h0M490.1 364.2h0M492.0 363.6h0M490.1 360.5h0M490.1 351.7h0M492.0 351.0h0M490.1 332.2h0M492.0 332.2h0M488.2 332.2h0M493.8 332.2h0M486.4 332.2h0" stroke="#26418f" stroke-width="1.9" stroke-linecap="round" fill="none"/>
<line x1="425.80" y1="332.50" x2="462.10" y2="332.50" stroke="#2c2c2c" stroke-width="1.0"/>
<line x1="425.80" y1="373.50" x2="462.10" y2="373.50" stroke="#2c2c2c" stroke-width="1.0"/>
<line x1="425.80" y1="362.00" x2="462.10" y2="362.00" stroke="#000" stroke-width="2.1"/>
<line x1="471.90" y1="363.50" x2="508.20" y2="363.50" stroke="#2c2c2c" stroke-width="1.0"/>
<line x1="471.90" y1="384.50" x2="508.20" y2="384.50" stroke="#2c2c2c" stroke-width="1.0"/>
<line x1="471.90" y1="377.00" x2="508.20" y2="377.00" stroke="#000" stroke-width="2.1"/>
<rect x="416.30" y="328.40" width="101.20" height="84.90" fill="none" stroke="#111" stroke-width="1.0"/>
<text x="470.20" y="319.00" font-size="7.35" text-anchor="middle" font-weight="bold">PF−477736</text>
<text x="438.70" y="420.90" font-size="6.6" text-anchor="middle" fill="#222">Both low</text>
<text x="489.90" y="420.90" font-size="6.55" text-anchor="middle" fill="#222">MYC or MYCL1 high</text>
<line x1="68.70" y1="466.40" x2="71.70" y2="466.40" stroke="#111" stroke-width="0.9"/>
<text transform="translate(66.08 467.20) rotate(-90)" font-size="6.6" text-anchor="middle" fill="#222">−5.0</text>
<line x1="68.70" y1="491.70" x2="71.70" y2="491.70" stroke="#111" stroke-width="0.9"/>
<text transform="translate(66.08 492.50) rotate(-90)" font-size="6.6" text-anchor="middle" fill="#222">−5.5</text>
<line x1="68.70" y1="517.00" x2="71.70" y2="517.00" stroke="#111" stroke-width="0.9"/>
<text transform="translate(66.08 517.80) rotate(-90)" font-size="6.6" text-anchor="middle" fill="#222">−6.0</text>
<line x1="68.70" y1="542.30" x2="71.70" y2="542.30" stroke="#111" stroke-width="0.9"/>
<text transform="translate(66.08 543.10) rotate(-90)" font-size="6.6" text-anchor="middle" fill="#222">−6.5</text>
<path d="M72.5 466.4h0M74.1 466.4h0M75.7 466.4h0M77.3 466.4h0M78.9 466.4h0M80.5 466.4h0M82.1 466.4h0M83.7 466.4h0M85.3 466.4h0M86.9 466.4h0M88.5 466.4h0M90.1 466.4h0M91.7 466.4h0M93.3 466.4h0M94.9 466.4h0M96.5 466.4h0M98.1 466.4h0M99.7 466.4h0M101.3 466.4h0M102.9 466.4h0M104.5 466.4h0M106.1 466.4h0M107.7 466.4h0M109.3 466.4h0M110.9 466.4h0M112.5 466.4h0M114.1 466.4h0M115.7 466.4h0M117.3 466.4h0M118.9 466.4h0M120.5 466.4h0M122.1 466.4h0M123.7 466.4h0M125.3 466.4h0M126.9 466.4h0M128.5 466.4h0M130.1 466.4h0M131.7 466.4h0M133.3 466.4h0M134.9 466.4h0M136.5 466.4h0M138.1 466.4h0M139.7 466.4h0M141.3 466.4h0M142.9 466.4h0M144.5 466.4h0M146.1 466.4h0M147.7 466.4h0M149.3 466.4h0M150.9 466.4h0M152.5 466.4h0M154.1 466.4h0M155.7 466.4h0M157.3 466.4h0M158.9 466.4h0M160.5 466.4h0M162.1 466.4h0M163.7 466.4h0M165.3 466.4h0M166.9 466.4h0M168.5 466.4h0M170.1 466.4h0M171.7 466.4h0M173.3 466.4h0" stroke="#4f78d2" stroke-width="1.7" stroke-linecap="round" fill="none"/>
<path d="M99.3 520.0h0M99.3 515.0h0M99.3 483.6h0M99.3 478.5h0M99.3 476.0h0M146.1 543.8h0M146.1 532.7h0M146.1 505.9h0M146.1 495.7h0M146.1 492.7h0M147.9 491.2h0M146.1 485.1h0M146.1 483.1h0M146.1 478.5h0M146.1 473.5h0M146.1 471.5h0M147.9 471.5h0" stroke="#26418f" stroke-width="1.9" stroke-linecap="round" fill="none"/>
<line x1="81.20" y1="466.00" x2="117.50" y2="466.00" stroke="#000" stroke-width="2.1"/>
<line x1="127.90" y1="478.50" x2="164.20" y2="478.50" stroke="#2c2c2c" stroke-width="1.0"/>
<line x1="127.90" y1="466.00" x2="164.20" y2="466.00" stroke="#000" stroke-width="2.1"/>
<rect x="71.70" y="462.60" width="101.80" height="84.80" fill="none" stroke="#111" stroke-width="1.0"/>
<text x="121.30" y="453.30" font-size="7.35" text-anchor="middle" font-weight="bold">SCH-900776</text>
<text x="93.90" y="554.80" font-size="6.6" text-anchor="middle" fill="#222">Both low</text>
<text x="145.00" y="554.80" font-size="6.55" text-anchor="middle" fill="#222">MYC or MYCL1 high</text>
<line x1="196.70" y1="466.30" x2="199.70" y2="466.30" stroke="#111" stroke-width="0.9"/>
<text transform="translate(193.68 467.10) rotate(-90)" font-size="5.5" text-anchor="middle" fill="#222">−5</text>
<line x1="196.70" y1="486.60" x2="199.70" y2="486.60" stroke="#111" stroke-width="0.9"/>
<text transform="translate(193.68 487.40) rotate(-90)" font-size="5.5" text-anchor="middle" fill="#222">−6</text>
<line x1="196.70" y1="506.90" x2="199.70" y2="506.90" stroke="#111" stroke-width="0.9"/>
<text transform="translate(193.68 507.70) rotate(-90)" font-size="5.5" text-anchor="middle" fill="#222">−7</text>
<line x1="196.70" y1="527.20" x2="199.70" y2="527.20" stroke="#111" stroke-width="0.9"/>
<text transform="translate(193.68 528.00) rotate(-90)" font-size="5.5" text-anchor="middle" fill="#222">−8</text>
<line x1="196.70" y1="547.50" x2="199.70" y2="547.50" stroke="#111" stroke-width="0.9"/>
<text transform="translate(193.68 548.30) rotate(-90)" font-size="5.5" text-anchor="middle" fill="#222">−9</text>
<path d="M200.5 466.3h0M202.1 466.3h0M203.7 466.3h0M205.3 466.3h0M206.9 466.3h0M208.5 466.3h0M210.1 466.3h0M211.7 466.3h0M213.3 466.3h0M214.9 466.3h0M216.5 466.3h0M218.1 466.3h0M219.7 466.3h0M221.3 466.3h0M222.9 466.3h0M224.5 466.3h0M226.1 466.3h0M227.7 466.3h0M229.3 466.3h0M230.9 466.3h0M232.5 466.3h0M234.1 466.3h0M235.7 466.3h0M237.3 466.3h0M238.9 466.3h0M240.5 466.3h0M242.1 466.3h0M243.7 466.3h0M245.3 466.3h0M246.9 466.3h0M248.5 466.3h0M250.1 466.3h0M251.7 466.3h0M253.3 466.3h0M254.9 466.3h0M256.5 466.3h0M258.1 466.3h0M259.7 466.3h0M261.3 466.3h0M262.9 466.3h0M264.5 466.3h0M266.1 466.3h0M267.7 466.3h0M269.3 466.3h0M270.9 466.3h0M272.5 466.3h0M274.1 466.3h0M275.7 466.3h0M277.3 466.3h0M278.9 466.3h0M280.5 466.3h0M282.1 466.3h0M283.7 466.3h0M285.3 466.3h0M286.9 466.3h0M288.5 466.3h0M290.1 466.3h0M291.7 466.3h0M293.3 466.3h0M294.9 466.3h0M296.5 466.3h0M298.1 466.3h0M299.7 466.3h0M301.3 466.3h0" stroke="#4f78d2" stroke-width="1.7" stroke-linecap="round" fill="none"/>
<path d="M227.3 478.5h0M227.3 476.4h0M227.3 468.3h0M274.2 544.0h0M274.2 468.7h0M276.1 468.3h0M272.4 468.3h0M277.9 467.9h0M270.5 467.9h0M279.8 467.5h0M268.7 467.3h0" stroke="#26418f" stroke-width="1.9" stroke-linecap="round" fill="none"/>
<line x1="209.20" y1="466.00" x2="245.50" y2="466.00" stroke="#000" stroke-width="2.1"/>
<line x1="256.00" y1="466.00" x2="292.30" y2="466.00" stroke="#000" stroke-width="2.1"/>
<rect x="199.70" y="462.60" width="101.90" height="84.80" fill="none" stroke="#111" stroke-width="1.0"/>
<text x="250.80" y="453.30" font-size="7.35" text-anchor="middle" font-weight="bold">VE821</text>
<text x="221.70" y="554.80" font-size="6.6" text-anchor="middle" fill="#222">Both low</text>
<text x="272.90" y="554.80" font-size="6.55" text-anchor="middle" fill="#222">MYC or MYCL1 high</text>
<line x1="324.50" y1="466.40" x2="327.50" y2="466.40" stroke="#111" stroke-width="0.9"/>
<text transform="translate(321.88 467.20) rotate(-90)" font-size="6.6" text-anchor="middle" fill="#222">−5.0</text>
<line x1="324.50" y1="492.00" x2="327.50" y2="492.00" stroke="#111" stroke-width="0.9"/>
<text transform="translate(321.88 492.80) rotate(-90)" font-size="6.6" text-anchor="middle" fill="#222">−5.4</text>
<line x1="324.50" y1="517.60" x2="327.50" y2="517.60" stroke="#111" stroke-width="0.9"/>
<text transform="translate(321.88 518.40) rotate(-90)" font-size="6.6" text-anchor="middle" fill="#222">−5.8</text>
<line x1="324.50" y1="543.20" x2="327.50" y2="543.20" stroke="#111" stroke-width="0.9"/>
<text transform="translate(321.88 544.00) rotate(-90)" font-size="6.6" text-anchor="middle" fill="#222">−6.2</text>
<line x1="324.50" y1="479.20" x2="327.50" y2="479.20" stroke="#111" stroke-width="0.9"/>
<line x1="324.50" y1="504.80" x2="327.50" y2="504.80" stroke="#111" stroke-width="0.9"/>
<line x1="324.50" y1="530.40" x2="327.50" y2="530.40" stroke="#111" stroke-width="0.9"/>
<path d="M355.1 515.0h0M355.1 506.1h0M355.1 502.9h0M357.0 502.2h0M355.1 492.0h0M357.0 492.0h0M355.1 489.4h0M355.1 486.9h0M355.1 484.3h0M357.0 482.4h0M355.1 480.5h0M355.1 477.9h0M355.1 475.4h0M355.1 472.8h0M355.1 469.6h0M401.9 543.8h0M401.9 533.6h0M401.9 515.0h0M401.9 506.7h0M403.8 504.8h0M401.9 501.6h0M401.9 498.4h0M401.9 495.2h0M401.9 492.0h0M401.9 488.8h0M401.9 485.6h0M403.8 484.3h0M400.1 484.3h0M401.9 482.4h0M401.9 479.2h0M403.8 477.9h0M400.1 477.3h0M401.9 476.0h0M403.8 474.7h0M400.1 474.1h0M405.6 474.1h0M401.9 472.8h0M398.2 472.8h0M403.8 471.5h0M401.9 469.6h0" stroke="#26418f" stroke-width="1.9" stroke-linecap="round" fill="none"/>
<line x1="337.00" y1="484.50" x2="373.30" y2="484.50" stroke="#2c2c2c" stroke-width="1.0"/>
<line x1="337.00" y1="466.00" x2="373.30" y2="466.00" stroke="#000" stroke-width="2.1"/>
<line x1="383.70" y1="466.50" x2="420.00" y2="466.50" stroke="#2c2c2c" stroke-width="1.0"/>
<line x1="383.70" y1="485.50" x2="420.00" y2="485.50" stroke="#2c2c2c" stroke-width="1.0"/>
<line x1="383.70" y1="475.00" x2="420.00" y2="475.00" stroke="#000" stroke-width="2.1"/>
<rect x="327.50" y="462.60" width="101.80" height="84.80" fill="none" stroke="#111" stroke-width="1.0"/>
<text x="378.90" y="453.30" font-size="7.35" text-anchor="middle" font-weight="bold">Vertex ATR inhibitor Cpd 45</text>
<text x="350.30" y="554.80" font-size="6.6" text-anchor="middle" fill="#222">Both low</text>
<text x="401.80" y="554.80" font-size="6.55" text-anchor="middle" fill="#222">MYC or MYCL1 high</text>
<path d="M389.9 466.4h0M391.9 466.4h0M393.9 466.4h0M395.9 466.4h0M397.9 466.4h0M399.9 466.4h0M401.9 466.4h0M403.9 466.4h0M405.9 466.4h0M407.9 466.4h0M409.9 466.4h0M411.9 466.4h0M413.9 466.4h0" stroke="#26418f" stroke-width="1.8" stroke-linecap="round" fill="none"/>
<text transform="translate(11.1 368.7) rotate(-90)" font-size="9" text-anchor="middle">log(IC<tspan font-size="5.4" dy="1.7">50</tspan><tspan dy="-1.7">)</tspan></text>
<text transform="translate(52.3 506) rotate(-90)" font-size="9" text-anchor="middle">log(IC<tspan font-size="5.4" dy="1.7">50</tspan><tspan dy="-1.7">)</tspan></text>
</svg>
</body></html>
